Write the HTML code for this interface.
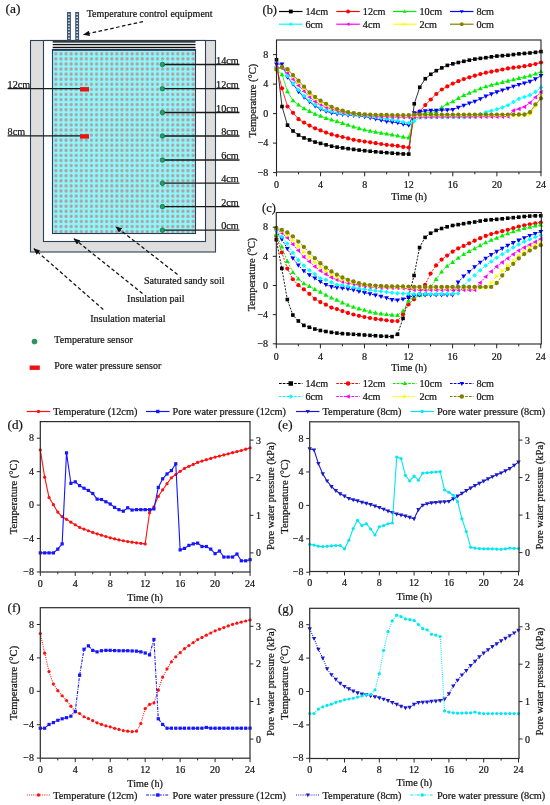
<!DOCTYPE html>
<html><head><meta charset="utf-8"><style>
html,body{margin:0;padding:0;background:#fff;}
svg{display:block;filter:blur(0.3px);}
text{font-family:"Liberation Serif", serif;fill:#151515;stroke:#151515;stroke-width:0.22px;}
</style></head><body>
<svg width="550" height="805" viewBox="0 0 550 805">

<defs><pattern id="soil" patternUnits="userSpaceOnUse" x="53.36" y="51.26" width="5.08" height="5.08"><rect width="5.08" height="5.08" fill="#8cf8f8"/><circle cx="2.54" cy="2.54" r="1.6" fill="#b49ca6"/></pattern><marker id="ah" viewBox="0 0 10 10" refX="9" refY="5" markerWidth="6.5" markerHeight="5.5" orient="auto-start-reverse" markerUnits="userSpaceOnUse" preserveAspectRatio="none"><path d="M0 0L10 5L0 10Z" fill="#111"/></marker></defs>
<text x="5.5" y="13" font-size="13.4" text-anchor="start" >(a)</text>
<rect x="30.5" y="40.5" width="185" height="211.5" fill="#dedede" stroke="#2e4058" stroke-width="1.1"/>
<rect x="43.5" y="40.5" width="162" height="201" fill="#ffffff" stroke="#2e4058" stroke-width="1.1"/>
<rect x="52.5" y="49.5" width="143" height="184" fill="url(#soil)" stroke="#2e3a5a" stroke-width="1.1"/>
<rect x="52.7" y="40" width="142.8" height="2.7" fill="#2d3b45"/>
<rect x="52.7" y="43.9" width="142.8" height="1.1" fill="#111"/>
<rect x="52.7" y="45" width="142.8" height="2" fill="#c4c4c4"/>
<rect x="52.7" y="47" width="142.8" height="1" fill="#111"/>
<rect x="52.7" y="48.8" width="142.8" height="2" fill="#2c3550"/>
<rect x="67.0" y="12" width="3.9" height="28.5" fill="#3b5572"/>
<rect x="68.2" y="13.6" width="1.5" height="1.4" fill="#e8eef4"/>
<rect x="68.2" y="16.6" width="1.5" height="1.4" fill="#e8eef4"/>
<rect x="68.2" y="19.6" width="1.5" height="1.4" fill="#e8eef4"/>
<rect x="68.2" y="22.6" width="1.5" height="1.4" fill="#e8eef4"/>
<rect x="68.2" y="25.6" width="1.5" height="1.4" fill="#e8eef4"/>
<rect x="68.2" y="28.6" width="1.5" height="1.4" fill="#e8eef4"/>
<rect x="68.2" y="31.6" width="1.5" height="1.4" fill="#e8eef4"/>
<rect x="68.2" y="34.6" width="1.5" height="1.4" fill="#e8eef4"/>
<rect x="68.2" y="37.6" width="1.5" height="1.4" fill="#e8eef4"/>
<rect x="75.2" y="12" width="3.9" height="28.5" fill="#3b5572"/>
<rect x="76.4" y="13.6" width="1.5" height="1.4" fill="#e8eef4"/>
<rect x="76.4" y="16.6" width="1.5" height="1.4" fill="#e8eef4"/>
<rect x="76.4" y="19.6" width="1.5" height="1.4" fill="#e8eef4"/>
<rect x="76.4" y="22.6" width="1.5" height="1.4" fill="#e8eef4"/>
<rect x="76.4" y="25.6" width="1.5" height="1.4" fill="#e8eef4"/>
<rect x="76.4" y="28.6" width="1.5" height="1.4" fill="#e8eef4"/>
<rect x="76.4" y="31.6" width="1.5" height="1.4" fill="#e8eef4"/>
<rect x="76.4" y="34.6" width="1.5" height="1.4" fill="#e8eef4"/>
<rect x="76.4" y="37.6" width="1.5" height="1.4" fill="#e8eef4"/>
<line x1="162.4" y1="64.5" x2="239.5" y2="64.5" stroke="#1a1a1a" stroke-width="1.3"/>
<circle cx="162.4" cy="64.5" r="2.3" fill="#1f9e5c" stroke="#155a3a" stroke-width="0.6"/>
<text x="238.7" y="63.6" font-size="10.2" text-anchor="end" >14cm</text>
<line x1="162.4" y1="88.7" x2="239.5" y2="88.7" stroke="#1a1a1a" stroke-width="1.3"/>
<circle cx="162.4" cy="88.7" r="2.3" fill="#1f9e5c" stroke="#155a3a" stroke-width="0.6"/>
<text x="238.7" y="87.8" font-size="10.2" text-anchor="end" >12cm</text>
<line x1="162.4" y1="112.5" x2="239.5" y2="112.5" stroke="#1a1a1a" stroke-width="1.3"/>
<circle cx="162.4" cy="112.5" r="2.3" fill="#1f9e5c" stroke="#155a3a" stroke-width="0.6"/>
<text x="238.7" y="111.6" font-size="10.2" text-anchor="end" >10cm</text>
<line x1="162.4" y1="136" x2="239.5" y2="136" stroke="#1a1a1a" stroke-width="1.3"/>
<circle cx="162.4" cy="136" r="2.3" fill="#1f9e5c" stroke="#155a3a" stroke-width="0.6"/>
<text x="238.7" y="135.1" font-size="10.2" text-anchor="end" >8cm</text>
<line x1="162.4" y1="160" x2="239.5" y2="160" stroke="#1a1a1a" stroke-width="1.3"/>
<circle cx="162.4" cy="160" r="2.3" fill="#1f9e5c" stroke="#155a3a" stroke-width="0.6"/>
<text x="238.7" y="159.1" font-size="10.2" text-anchor="end" >6cm</text>
<line x1="162.4" y1="183.2" x2="239.5" y2="183.2" stroke="#1a1a1a" stroke-width="1.3"/>
<circle cx="162.4" cy="183.2" r="2.3" fill="#1f9e5c" stroke="#155a3a" stroke-width="0.6"/>
<text x="238.7" y="182.3" font-size="10.2" text-anchor="end" >4cm</text>
<line x1="162.4" y1="206.6" x2="239.5" y2="206.6" stroke="#1a1a1a" stroke-width="1.3"/>
<circle cx="162.4" cy="206.6" r="2.3" fill="#1f9e5c" stroke="#155a3a" stroke-width="0.6"/>
<text x="238.7" y="205.7" font-size="10.2" text-anchor="end" >2cm</text>
<line x1="162.4" y1="230.2" x2="239.5" y2="230.2" stroke="#1a1a1a" stroke-width="1.3"/>
<circle cx="162.4" cy="230.2" r="2.3" fill="#1f9e5c" stroke="#155a3a" stroke-width="0.6"/>
<text x="238.7" y="229.3" font-size="10.2" text-anchor="end" >0cm</text>
<line x1="7.6" y1="88.7" x2="81" y2="88.7" stroke="#1a1a1a" stroke-width="1.3"/>
<rect x="80" y="87.1" width="9" height="4.4" fill="#ee1111"/>
<text x="7.6" y="87.8" font-size="10.2" text-anchor="start" >12cm</text>
<line x1="7.6" y1="135.8" x2="81" y2="135.8" stroke="#1a1a1a" stroke-width="1.3"/>
<rect x="80" y="134.2" width="9" height="4.4" fill="#ee1111"/>
<text x="7.6" y="134.9" font-size="10.2" text-anchor="start" >8cm</text>
<line x1="143" y1="21.6" x2="83.7" y2="34.6" stroke="#111" stroke-width="1.25" stroke-dasharray="3.6 2.4" marker-end="url(#ah)"/>
<line x1="177.5" y1="274.5" x2="116" y2="226.8" stroke="#111" stroke-width="1.25" stroke-dasharray="3.6 2.4" marker-end="url(#ah)"/>
<line x1="142.5" y1="293.5" x2="74" y2="238.8" stroke="#111" stroke-width="1.25" stroke-dasharray="3.6 2.4" marker-end="url(#ah)"/>
<line x1="103.3" y1="309.5" x2="34" y2="248.8" stroke="#111" stroke-width="1.25" stroke-dasharray="3.6 2.4" marker-end="url(#ah)"/>
<text x="86.7" y="17.3" font-size="10" text-anchor="start" >Temperature control equipment</text>
<text x="144" y="283.9" font-size="10" text-anchor="start" >Saturated sandy soil</text>
<text x="127.1" y="302.2" font-size="10" text-anchor="start" >Insulation pail</text>
<text x="90.2" y="321.7" font-size="10" text-anchor="start" >Insulation material</text>
<circle cx="34.5" cy="341.6" r="2.5" fill="#1f9e5c" stroke="#155a3a" stroke-width="0.5"/>
<text x="54.3" y="343.2" font-size="10" text-anchor="start" >Temperature sensor</text>
<rect x="29.6" y="365.5" width="10.2" height="4.4" fill="#ee1111"/>
<text x="54.3" y="368.8" font-size="10" text-anchor="start" >Pore water pressure sensor</text>
<polyline points="276.5,59.76 282.01,106.52 287.52,125.18 293.03,131 298.54,135.06 304.05,137.94 309.56,139.93 315.07,142.07 320.58,143.39 326.09,144.87 331.6,146.2 337.11,147.12 342.62,147.89 348.13,148.66 353.64,149.39 359.15,150.08 364.66,150.7 370.17,151.26 375.68,151.78 381.19,152.25 386.7,152.69 392.21,153.14 397.72,153.59 403.23,153.95 408.74,154.09 414.25,103.79 419.76,87.27 425.27,78.72 430.78,74.29 436.29,70.68 441.8,67.88 447.31,65.37 452.82,63.82 458.33,62.51 463.84,61.31 469.35,60.13 474.86,59.1 480.37,58.37 485.88,57.7 491.39,56.83 496.9,56.07 502.41,55.66 507.92,55.26 513.43,54.57 518.94,53.86 524.45,53.42 529.96,52.98 535.47,52.35 540.98,51.58" fill="none" stroke="#000000" stroke-width="0.8"/>
<rect x="274.7" y="57.96" width="3.6" height="3.6" fill="#000000"/>
<rect x="280.21" y="104.72" width="3.6" height="3.6" fill="#000000"/>
<rect x="285.72" y="123.38" width="3.6" height="3.6" fill="#000000"/>
<rect x="291.23" y="129.2" width="3.6" height="3.6" fill="#000000"/>
<rect x="296.74" y="133.26" width="3.6" height="3.6" fill="#000000"/>
<rect x="302.25" y="136.14" width="3.6" height="3.6" fill="#000000"/>
<rect x="307.76" y="138.13" width="3.6" height="3.6" fill="#000000"/>
<rect x="313.27" y="140.27" width="3.6" height="3.6" fill="#000000"/>
<rect x="318.78" y="141.59" width="3.6" height="3.6" fill="#000000"/>
<rect x="324.29" y="143.07" width="3.6" height="3.6" fill="#000000"/>
<rect x="329.8" y="144.4" width="3.6" height="3.6" fill="#000000"/>
<rect x="335.31" y="145.32" width="3.6" height="3.6" fill="#000000"/>
<rect x="340.82" y="146.09" width="3.6" height="3.6" fill="#000000"/>
<rect x="346.33" y="146.86" width="3.6" height="3.6" fill="#000000"/>
<rect x="351.84" y="147.59" width="3.6" height="3.6" fill="#000000"/>
<rect x="357.35" y="148.28" width="3.6" height="3.6" fill="#000000"/>
<rect x="362.86" y="148.9" width="3.6" height="3.6" fill="#000000"/>
<rect x="368.37" y="149.46" width="3.6" height="3.6" fill="#000000"/>
<rect x="373.88" y="149.98" width="3.6" height="3.6" fill="#000000"/>
<rect x="379.39" y="150.45" width="3.6" height="3.6" fill="#000000"/>
<rect x="384.9" y="150.89" width="3.6" height="3.6" fill="#000000"/>
<rect x="390.41" y="151.34" width="3.6" height="3.6" fill="#000000"/>
<rect x="395.92" y="151.79" width="3.6" height="3.6" fill="#000000"/>
<rect x="401.43" y="152.15" width="3.6" height="3.6" fill="#000000"/>
<rect x="406.94" y="152.29" width="3.6" height="3.6" fill="#000000"/>
<rect x="412.45" y="101.99" width="3.6" height="3.6" fill="#000000"/>
<rect x="417.96" y="85.47" width="3.6" height="3.6" fill="#000000"/>
<rect x="423.47" y="76.92" width="3.6" height="3.6" fill="#000000"/>
<rect x="428.98" y="72.49" width="3.6" height="3.6" fill="#000000"/>
<rect x="434.49" y="68.88" width="3.6" height="3.6" fill="#000000"/>
<rect x="440" y="66.08" width="3.6" height="3.6" fill="#000000"/>
<rect x="445.51" y="63.57" width="3.6" height="3.6" fill="#000000"/>
<rect x="451.02" y="62.02" width="3.6" height="3.6" fill="#000000"/>
<rect x="456.53" y="60.71" width="3.6" height="3.6" fill="#000000"/>
<rect x="462.04" y="59.51" width="3.6" height="3.6" fill="#000000"/>
<rect x="467.55" y="58.33" width="3.6" height="3.6" fill="#000000"/>
<rect x="473.06" y="57.3" width="3.6" height="3.6" fill="#000000"/>
<rect x="478.57" y="56.57" width="3.6" height="3.6" fill="#000000"/>
<rect x="484.08" y="55.9" width="3.6" height="3.6" fill="#000000"/>
<rect x="489.59" y="55.03" width="3.6" height="3.6" fill="#000000"/>
<rect x="495.1" y="54.27" width="3.6" height="3.6" fill="#000000"/>
<rect x="500.61" y="53.86" width="3.6" height="3.6" fill="#000000"/>
<rect x="506.12" y="53.46" width="3.6" height="3.6" fill="#000000"/>
<rect x="511.63" y="52.77" width="3.6" height="3.6" fill="#000000"/>
<rect x="517.14" y="52.06" width="3.6" height="3.6" fill="#000000"/>
<rect x="522.65" y="51.62" width="3.6" height="3.6" fill="#000000"/>
<rect x="528.16" y="51.18" width="3.6" height="3.6" fill="#000000"/>
<rect x="533.67" y="50.55" width="3.6" height="3.6" fill="#000000"/>
<rect x="539.18" y="49.78" width="3.6" height="3.6" fill="#000000"/>
<polyline points="276.5,67.28 282.01,88.3 287.52,106.52 293.03,112.79 298.54,119.2 304.05,122.6 309.56,125.55 315.07,128.35 320.58,130.41 326.09,132.55 331.6,134.47 337.11,135.78 342.62,136.98 348.13,138.44 353.64,139.78 359.15,140.73 364.66,141.55 370.17,142.37 375.68,143.17 381.19,144.02 386.7,144.8 392.21,145.35 397.72,145.9 403.23,146.88 408.74,147.52 414.25,115.81 419.76,111.39 425.27,105.12 430.78,99.51 436.29,93.98 441.8,89.48 447.31,86.39 452.82,83.58 458.33,81.19 463.84,79.08 469.35,77.3 474.86,75.69 480.37,74.08 485.88,72.67 491.39,71.64 496.9,70.68 502.41,69.49 507.92,68.39 513.43,67.67 518.94,66.99 524.45,66.18 529.96,65.22 535.47,63.99 540.98,62.49" fill="none" stroke="#ff0000" stroke-width="0.8"/>
<circle cx="276.5" cy="67.28" r="2.1" fill="#ff0000"/>
<circle cx="282.01" cy="88.3" r="2.1" fill="#ff0000"/>
<circle cx="287.52" cy="106.52" r="2.1" fill="#ff0000"/>
<circle cx="293.03" cy="112.79" r="2.1" fill="#ff0000"/>
<circle cx="298.54" cy="119.2" r="2.1" fill="#ff0000"/>
<circle cx="304.05" cy="122.6" r="2.1" fill="#ff0000"/>
<circle cx="309.56" cy="125.55" r="2.1" fill="#ff0000"/>
<circle cx="315.07" cy="128.35" r="2.1" fill="#ff0000"/>
<circle cx="320.58" cy="130.41" r="2.1" fill="#ff0000"/>
<circle cx="326.09" cy="132.55" r="2.1" fill="#ff0000"/>
<circle cx="331.6" cy="134.47" r="2.1" fill="#ff0000"/>
<circle cx="337.11" cy="135.78" r="2.1" fill="#ff0000"/>
<circle cx="342.62" cy="136.98" r="2.1" fill="#ff0000"/>
<circle cx="348.13" cy="138.44" r="2.1" fill="#ff0000"/>
<circle cx="353.64" cy="139.78" r="2.1" fill="#ff0000"/>
<circle cx="359.15" cy="140.73" r="2.1" fill="#ff0000"/>
<circle cx="364.66" cy="141.55" r="2.1" fill="#ff0000"/>
<circle cx="370.17" cy="142.37" r="2.1" fill="#ff0000"/>
<circle cx="375.68" cy="143.17" r="2.1" fill="#ff0000"/>
<circle cx="381.19" cy="144.02" r="2.1" fill="#ff0000"/>
<circle cx="386.7" cy="144.8" r="2.1" fill="#ff0000"/>
<circle cx="392.21" cy="145.35" r="2.1" fill="#ff0000"/>
<circle cx="397.72" cy="145.9" r="2.1" fill="#ff0000"/>
<circle cx="403.23" cy="146.88" r="2.1" fill="#ff0000"/>
<circle cx="408.74" cy="147.52" r="2.1" fill="#ff0000"/>
<circle cx="414.25" cy="115.81" r="2.1" fill="#ff0000"/>
<circle cx="419.76" cy="111.39" r="2.1" fill="#ff0000"/>
<circle cx="425.27" cy="105.12" r="2.1" fill="#ff0000"/>
<circle cx="430.78" cy="99.51" r="2.1" fill="#ff0000"/>
<circle cx="436.29" cy="93.98" r="2.1" fill="#ff0000"/>
<circle cx="441.8" cy="89.48" r="2.1" fill="#ff0000"/>
<circle cx="447.31" cy="86.39" r="2.1" fill="#ff0000"/>
<circle cx="452.82" cy="83.58" r="2.1" fill="#ff0000"/>
<circle cx="458.33" cy="81.19" r="2.1" fill="#ff0000"/>
<circle cx="463.84" cy="79.08" r="2.1" fill="#ff0000"/>
<circle cx="469.35" cy="77.3" r="2.1" fill="#ff0000"/>
<circle cx="474.86" cy="75.69" r="2.1" fill="#ff0000"/>
<circle cx="480.37" cy="74.08" r="2.1" fill="#ff0000"/>
<circle cx="485.88" cy="72.67" r="2.1" fill="#ff0000"/>
<circle cx="491.39" cy="71.64" r="2.1" fill="#ff0000"/>
<circle cx="496.9" cy="70.68" r="2.1" fill="#ff0000"/>
<circle cx="502.41" cy="69.49" r="2.1" fill="#ff0000"/>
<circle cx="507.92" cy="68.39" r="2.1" fill="#ff0000"/>
<circle cx="513.43" cy="67.67" r="2.1" fill="#ff0000"/>
<circle cx="518.94" cy="66.99" r="2.1" fill="#ff0000"/>
<circle cx="524.45" cy="66.18" r="2.1" fill="#ff0000"/>
<circle cx="529.96" cy="65.22" r="2.1" fill="#ff0000"/>
<circle cx="535.47" cy="63.99" r="2.1" fill="#ff0000"/>
<circle cx="540.98" cy="62.49" r="2.1" fill="#ff0000"/>
<polyline points="276.5,69.35 282.01,74.59 287.52,91.62 293.03,100.55 298.54,104.82 304.05,108.58 309.56,111.17 315.07,114.12 320.58,116.03 326.09,118.32 331.6,119.79 337.11,121.45 342.62,123.19 348.13,125.02 353.64,126.8 359.15,128.41 364.66,129.82 370.17,131 375.68,132.04 381.19,132.98 386.7,133.88 392.21,134.79 397.72,135.72 403.23,136.96 408.74,137.72 414.25,116.55 419.76,113.6 425.27,113 430.78,112.49 436.29,111.17 441.8,107.41 447.31,103.79 452.82,101.58 458.33,98.19 463.84,95.31 469.35,93.1 474.86,90.74 480.37,88.55 485.88,86.61 491.39,85.01 496.9,83.58 502.41,82.24 507.92,80.93 513.43,79.55 518.94,78.2 524.45,77.01 529.96,75.69 535.47,73.88 540.98,71.64" fill="none" stroke="#00ee00" stroke-width="0.8"/>
<path d="M276.5 66.76L278.9 71.08L274.1 71.08Z" fill="#00ee00"/>
<path d="M282.01 71.99L284.41 76.31L279.61 76.31Z" fill="#00ee00"/>
<path d="M287.52 89.03L289.92 93.35L285.12 93.35Z" fill="#00ee00"/>
<path d="M293.03 97.95L295.43 102.27L290.63 102.27Z" fill="#00ee00"/>
<path d="M298.54 102.23L300.94 106.55L296.14 106.55Z" fill="#00ee00"/>
<path d="M304.05 105.99L306.45 110.31L301.65 110.31Z" fill="#00ee00"/>
<path d="M309.56 108.57L311.96 112.89L307.16 112.89Z" fill="#00ee00"/>
<path d="M315.07 111.52L317.47 115.84L312.67 115.84Z" fill="#00ee00"/>
<path d="M320.58 113.44L322.98 117.76L318.18 117.76Z" fill="#00ee00"/>
<path d="M326.09 115.73L328.49 120.05L323.69 120.05Z" fill="#00ee00"/>
<path d="M331.6 117.2L334 121.52L329.2 121.52Z" fill="#00ee00"/>
<path d="M337.11 118.85L339.51 123.17L334.71 123.17Z" fill="#00ee00"/>
<path d="M342.62 120.6L345.02 124.92L340.22 124.92Z" fill="#00ee00"/>
<path d="M348.13 122.43L350.53 126.75L345.73 126.75Z" fill="#00ee00"/>
<path d="M353.64 124.21L356.04 128.53L351.24 128.53Z" fill="#00ee00"/>
<path d="M359.15 125.81L361.55 130.13L356.75 130.13Z" fill="#00ee00"/>
<path d="M364.66 127.23L367.06 131.55L362.26 131.55Z" fill="#00ee00"/>
<path d="M370.17 128.41L372.57 132.73L367.77 132.73Z" fill="#00ee00"/>
<path d="M375.68 129.45L378.08 133.77L373.28 133.77Z" fill="#00ee00"/>
<path d="M381.19 130.39L383.59 134.71L378.79 134.71Z" fill="#00ee00"/>
<path d="M386.7 131.29L389.1 135.61L384.3 135.61Z" fill="#00ee00"/>
<path d="M392.21 132.2L394.61 136.52L389.81 136.52Z" fill="#00ee00"/>
<path d="M397.72 133.13L400.12 137.45L395.32 137.45Z" fill="#00ee00"/>
<path d="M403.23 134.37L405.63 138.69L400.83 138.69Z" fill="#00ee00"/>
<path d="M408.74 135.12L411.14 139.44L406.34 139.44Z" fill="#00ee00"/>
<path d="M414.25 113.96L416.65 118.28L411.85 118.28Z" fill="#00ee00"/>
<path d="M419.76 111.01L422.16 115.33L417.36 115.33Z" fill="#00ee00"/>
<path d="M425.27 110.41L427.67 114.73L422.87 114.73Z" fill="#00ee00"/>
<path d="M430.78 109.9L433.18 114.22L428.38 114.22Z" fill="#00ee00"/>
<path d="M436.29 108.57L438.69 112.89L433.89 112.89Z" fill="#00ee00"/>
<path d="M441.8 104.81L444.2 109.13L439.4 109.13Z" fill="#00ee00"/>
<path d="M447.31 101.2L449.71 105.52L444.91 105.52Z" fill="#00ee00"/>
<path d="M452.82 98.99L455.22 103.31L450.42 103.31Z" fill="#00ee00"/>
<path d="M458.33 95.59L460.73 99.91L455.93 99.91Z" fill="#00ee00"/>
<path d="M463.84 92.72L466.24 97.04L461.44 97.04Z" fill="#00ee00"/>
<path d="M469.35 90.51L471.75 94.83L466.95 94.83Z" fill="#00ee00"/>
<path d="M474.86 88.15L477.26 92.47L472.46 92.47Z" fill="#00ee00"/>
<path d="M480.37 85.96L482.77 90.28L477.97 90.28Z" fill="#00ee00"/>
<path d="M485.88 84.02L488.28 88.34L483.48 88.34Z" fill="#00ee00"/>
<path d="M491.39 82.42L493.79 86.74L488.99 86.74Z" fill="#00ee00"/>
<path d="M496.9 80.99L499.3 85.31L494.5 85.31Z" fill="#00ee00"/>
<path d="M502.41 79.65L504.81 83.97L500.01 83.97Z" fill="#00ee00"/>
<path d="M507.92 78.34L510.32 82.66L505.52 82.66Z" fill="#00ee00"/>
<path d="M513.43 76.96L515.83 81.28L511.03 81.28Z" fill="#00ee00"/>
<path d="M518.94 75.61L521.34 79.93L516.54 79.93Z" fill="#00ee00"/>
<path d="M524.45 74.41L526.85 78.73L522.05 78.73Z" fill="#00ee00"/>
<path d="M529.96 73.1L532.36 77.42L527.56 77.42Z" fill="#00ee00"/>
<path d="M535.47 71.29L537.87 75.61L533.07 75.61Z" fill="#00ee00"/>
<path d="M540.98 69.04L543.38 73.36L538.58 73.36Z" fill="#00ee00"/>
<polyline points="276.5,64.11 282.01,64.11 287.52,77.17 293.03,84.17 298.54,91.62 304.05,97.19 309.56,101.8 315.07,105.94 320.58,109.17 326.09,111.35 331.6,112.86 337.11,113.79 342.62,114.48 348.13,115.05 353.64,115.5 359.15,115.99 364.66,116.62 370.17,117.66 375.68,118.91 381.19,120.25 386.7,121.42 392.21,122.08 397.72,122.74 403.23,124.18 408.74,125.18 414.25,112.86 419.76,111.83 425.27,110.87 430.78,110.57 436.29,110.4 441.8,110.21 447.31,110.02 452.82,109.69 458.33,107.41 463.84,105.49 469.35,103.27 474.86,101.43 480.37,98.86 485.88,96.19 491.39,94.04 496.9,92.06 502.41,90.2 507.92,88.38 513.43,86.49 518.94,84.69 524.45,83.23 529.96,81.59 535.47,79.05 540.98,75.69" fill="none" stroke="#0000ff" stroke-width="0.8"/>
<path d="M276.5 66.71L278.9 62.39L274.1 62.39Z" fill="#0000ff"/>
<path d="M282.01 66.71L284.41 62.39L279.61 62.39Z" fill="#0000ff"/>
<path d="M287.52 79.76L289.92 75.44L285.12 75.44Z" fill="#0000ff"/>
<path d="M293.03 86.77L295.43 82.45L290.63 82.45Z" fill="#0000ff"/>
<path d="M298.54 94.21L300.94 89.89L296.14 89.89Z" fill="#0000ff"/>
<path d="M304.05 99.78L306.45 95.46L301.65 95.46Z" fill="#0000ff"/>
<path d="M309.56 104.39L311.96 100.07L307.16 100.07Z" fill="#0000ff"/>
<path d="M315.07 108.53L317.47 104.21L312.67 104.21Z" fill="#0000ff"/>
<path d="M320.58 111.77L322.98 107.45L318.18 107.45Z" fill="#0000ff"/>
<path d="M326.09 113.94L328.49 109.62L323.69 109.62Z" fill="#0000ff"/>
<path d="M331.6 115.45L334 111.13L329.2 111.13Z" fill="#0000ff"/>
<path d="M337.11 116.38L339.51 112.06L334.71 112.06Z" fill="#0000ff"/>
<path d="M342.62 117.08L345.02 112.76L340.22 112.76Z" fill="#0000ff"/>
<path d="M348.13 117.64L350.53 113.32L345.73 113.32Z" fill="#0000ff"/>
<path d="M353.64 118.1L356.04 113.78L351.24 113.78Z" fill="#0000ff"/>
<path d="M359.15 118.58L361.55 114.26L356.75 114.26Z" fill="#0000ff"/>
<path d="M364.66 119.22L367.06 114.9L362.26 114.9Z" fill="#0000ff"/>
<path d="M370.17 120.25L372.57 115.93L367.77 115.93Z" fill="#0000ff"/>
<path d="M375.68 121.5L378.08 117.18L373.28 117.18Z" fill="#0000ff"/>
<path d="M381.19 122.84L383.59 118.52L378.79 118.52Z" fill="#0000ff"/>
<path d="M386.7 124.01L389.1 119.69L384.3 119.69Z" fill="#0000ff"/>
<path d="M392.21 124.68L394.61 120.36L389.81 120.36Z" fill="#0000ff"/>
<path d="M397.72 125.34L400.12 121.02L395.32 121.02Z" fill="#0000ff"/>
<path d="M403.23 126.77L405.63 122.45L400.83 122.45Z" fill="#0000ff"/>
<path d="M408.74 127.77L411.14 123.45L406.34 123.45Z" fill="#0000ff"/>
<path d="M414.25 115.45L416.65 111.13L411.85 111.13Z" fill="#0000ff"/>
<path d="M419.76 114.42L422.16 110.1L417.36 110.1Z" fill="#0000ff"/>
<path d="M425.27 113.46L427.67 109.14L422.87 109.14Z" fill="#0000ff"/>
<path d="M430.78 113.17L433.18 108.85L428.38 108.85Z" fill="#0000ff"/>
<path d="M436.29 112.99L438.69 108.67L433.89 108.67Z" fill="#0000ff"/>
<path d="M441.8 112.8L444.2 108.48L439.4 108.48Z" fill="#0000ff"/>
<path d="M447.31 112.61L449.71 108.29L444.91 108.29Z" fill="#0000ff"/>
<path d="M452.82 112.28L455.22 107.96L450.42 107.96Z" fill="#0000ff"/>
<path d="M458.33 110L460.73 105.68L455.93 105.68Z" fill="#0000ff"/>
<path d="M463.84 108.08L466.24 103.76L461.44 103.76Z" fill="#0000ff"/>
<path d="M469.35 105.87L471.75 101.55L466.95 101.55Z" fill="#0000ff"/>
<path d="M474.86 104.02L477.26 99.7L472.46 99.7Z" fill="#0000ff"/>
<path d="M480.37 101.45L482.77 97.13L477.97 97.13Z" fill="#0000ff"/>
<path d="M485.88 98.79L488.28 94.47L483.48 94.47Z" fill="#0000ff"/>
<path d="M491.39 96.63L493.79 92.31L488.99 92.31Z" fill="#0000ff"/>
<path d="M496.9 94.66L499.3 90.34L494.5 90.34Z" fill="#0000ff"/>
<path d="M502.41 92.79L504.81 88.47L500.01 88.47Z" fill="#0000ff"/>
<path d="M507.92 90.97L510.32 86.65L505.52 86.65Z" fill="#0000ff"/>
<path d="M513.43 89.09L515.83 84.77L511.03 84.77Z" fill="#0000ff"/>
<path d="M518.94 87.28L521.34 82.96L516.54 82.96Z" fill="#0000ff"/>
<path d="M524.45 85.82L526.85 81.5L522.05 81.5Z" fill="#0000ff"/>
<path d="M529.96 84.18L532.36 79.86L527.56 79.86Z" fill="#0000ff"/>
<path d="M535.47 81.64L537.87 77.32L533.07 77.32Z" fill="#0000ff"/>
<path d="M540.98 78.28L543.38 73.96L538.58 73.96Z" fill="#0000ff"/>
<polyline points="276.5,67.14 282.01,67.88 287.52,75.91 293.03,83.51 298.54,89.93 304.05,95.9 309.56,100.69 315.07,104.82 320.58,108.07 326.09,110.28 331.6,111.53 337.11,112.79 342.62,113.53 348.13,114.13 353.64,114.67 359.15,115.21 364.66,115.81 370.17,116.51 375.68,117.27 381.19,118.08 386.7,118.91 392.21,119.75 397.72,120.68 403.23,122.11 408.74,123.04 414.25,121.12 419.76,117.51 425.27,117.38 430.78,117.3 436.29,117.25 441.8,117.22 447.31,117.21 452.82,117.2 458.33,117.18 463.84,117.13 469.35,117.05 474.86,116.92 480.37,114.34 485.88,112.27 491.39,110.79 496.9,109.32 502.41,107.45 507.92,105.19 513.43,101.98 518.94,98.85 524.45,97.05 529.96,95.16 535.47,91.91 540.98,87.49" fill="none" stroke="#00ffff" stroke-width="0.8"/>
<path d="M276.5 64.84L278.8 67.14L276.5 69.44L274.2 67.14Z" fill="#00ffff"/>
<path d="M282.01 65.58L284.31 67.88L282.01 70.17L279.71 67.88Z" fill="#00ffff"/>
<path d="M287.52 73.61L289.82 75.91L287.52 78.21L285.22 75.91Z" fill="#00ffff"/>
<path d="M293.03 81.21L295.33 83.51L293.03 85.81L290.73 83.51Z" fill="#00ffff"/>
<path d="M298.54 87.63L300.84 89.93L298.54 92.23L296.24 89.93Z" fill="#00ffff"/>
<path d="M304.05 93.6L306.35 95.9L304.05 98.2L301.75 95.9Z" fill="#00ffff"/>
<path d="M309.56 98.39L311.86 100.69L309.56 102.99L307.26 100.69Z" fill="#00ffff"/>
<path d="M315.07 102.52L317.37 104.82L315.07 107.12L312.77 104.82Z" fill="#00ffff"/>
<path d="M320.58 105.77L322.88 108.07L320.58 110.37L318.28 108.07Z" fill="#00ffff"/>
<path d="M326.09 107.98L328.39 110.28L326.09 112.58L323.79 110.28Z" fill="#00ffff"/>
<path d="M331.6 109.23L333.9 111.53L331.6 113.83L329.3 111.53Z" fill="#00ffff"/>
<path d="M337.11 110.49L339.41 112.79L337.11 115.09L334.81 112.79Z" fill="#00ffff"/>
<path d="M342.62 111.23L344.92 113.53L342.62 115.83L340.32 113.53Z" fill="#00ffff"/>
<path d="M348.13 111.83L350.43 114.13L348.13 116.43L345.83 114.13Z" fill="#00ffff"/>
<path d="M353.64 112.37L355.94 114.67L353.64 116.97L351.34 114.67Z" fill="#00ffff"/>
<path d="M359.15 112.91L361.45 115.21L359.15 117.51L356.85 115.21Z" fill="#00ffff"/>
<path d="M364.66 113.51L366.96 115.81L364.66 118.11L362.36 115.81Z" fill="#00ffff"/>
<path d="M370.17 114.21L372.47 116.51L370.17 118.81L367.87 116.51Z" fill="#00ffff"/>
<path d="M375.68 114.97L377.98 117.27L375.68 119.57L373.38 117.27Z" fill="#00ffff"/>
<path d="M381.19 115.78L383.49 118.08L381.19 120.38L378.89 118.08Z" fill="#00ffff"/>
<path d="M386.7 116.61L389 118.91L386.7 121.21L384.4 118.91Z" fill="#00ffff"/>
<path d="M392.21 117.45L394.51 119.75L392.21 122.05L389.91 119.75Z" fill="#00ffff"/>
<path d="M397.72 118.38L400.02 120.68L397.72 122.98L395.42 120.68Z" fill="#00ffff"/>
<path d="M403.23 119.81L405.53 122.11L403.23 124.41L400.93 122.11Z" fill="#00ffff"/>
<path d="M408.74 120.74L411.04 123.04L408.74 125.34L406.44 123.04Z" fill="#00ffff"/>
<path d="M414.25 118.82L416.55 121.12L414.25 123.42L411.95 121.12Z" fill="#00ffff"/>
<path d="M419.76 115.21L422.06 117.51L419.76 119.81L417.46 117.51Z" fill="#00ffff"/>
<path d="M425.27 115.08L427.57 117.38L425.27 119.68L422.97 117.38Z" fill="#00ffff"/>
<path d="M430.78 115L433.08 117.3L430.78 119.6L428.48 117.3Z" fill="#00ffff"/>
<path d="M436.29 114.95L438.59 117.25L436.29 119.55L433.99 117.25Z" fill="#00ffff"/>
<path d="M441.8 114.92L444.1 117.22L441.8 119.52L439.5 117.22Z" fill="#00ffff"/>
<path d="M447.31 114.91L449.61 117.21L447.31 119.51L445.01 117.21Z" fill="#00ffff"/>
<path d="M452.82 114.9L455.12 117.2L452.82 119.5L450.52 117.2Z" fill="#00ffff"/>
<path d="M458.33 114.88L460.63 117.18L458.33 119.48L456.03 117.18Z" fill="#00ffff"/>
<path d="M463.84 114.83L466.14 117.13L463.84 119.43L461.54 117.13Z" fill="#00ffff"/>
<path d="M469.35 114.75L471.65 117.05L469.35 119.35L467.05 117.05Z" fill="#00ffff"/>
<path d="M474.86 114.62L477.16 116.92L474.86 119.22L472.56 116.92Z" fill="#00ffff"/>
<path d="M480.37 112.04L482.67 114.34L480.37 116.64L478.07 114.34Z" fill="#00ffff"/>
<path d="M485.88 109.97L488.18 112.27L485.88 114.57L483.58 112.27Z" fill="#00ffff"/>
<path d="M491.39 108.49L493.69 110.79L491.39 113.09L489.09 110.79Z" fill="#00ffff"/>
<path d="M496.9 107.02L499.2 109.32L496.9 111.62L494.6 109.32Z" fill="#00ffff"/>
<path d="M502.41 105.15L504.71 107.45L502.41 109.75L500.11 107.45Z" fill="#00ffff"/>
<path d="M507.92 102.89L510.22 105.19L507.92 107.49L505.62 105.19Z" fill="#00ffff"/>
<path d="M513.43 99.68L515.73 101.98L513.43 104.28L511.13 101.98Z" fill="#00ffff"/>
<path d="M518.94 96.55L521.24 98.85L518.94 101.15L516.64 98.85Z" fill="#00ffff"/>
<path d="M524.45 94.75L526.75 97.05L524.45 99.35L522.15 97.05Z" fill="#00ffff"/>
<path d="M529.96 92.86L532.26 95.16L529.96 97.46L527.66 95.16Z" fill="#00ffff"/>
<path d="M535.47 89.61L537.77 91.91L535.47 94.21L533.17 91.91Z" fill="#00ffff"/>
<path d="M540.98 85.19L543.28 87.49L540.98 89.79L538.68 87.49Z" fill="#00ffff"/>
<polyline points="276.5,67.88 282.01,67.88 287.52,72.74 293.03,79.08 298.54,85.5 304.05,91.18 309.56,96.93 315.07,101.43 320.58,104.53 326.09,107.33 331.6,109.03 337.11,110.87 342.62,112.2 348.13,112.98 353.64,113.57 359.15,114.1 364.66,114.71 370.17,115.53 375.68,116.18 381.19,116.49 386.7,116.76 392.21,116.98 397.72,117.15 403.23,117.25 408.74,117.29 414.25,117.29 419.76,117.2 425.27,117.04 430.78,116.92 436.29,116.87 441.8,116.84 447.31,116.82 452.82,116.8 458.33,116.79 463.84,116.78 469.35,116.77 474.86,116.77 480.37,116.75 485.88,116.73 491.39,116.7 496.9,116.67 502.41,116.62 507.92,116.55 513.43,110.58 518.94,108.88 524.45,106.81 529.96,102.69 535.47,97.3 540.98,92.06" fill="none" stroke="#ff00ff" stroke-width="0.8"/>
<path d="M274.02 67.88L278.16 65.58L278.16 70.17Z" fill="#ff00ff"/>
<path d="M279.53 67.88L283.67 65.58L283.67 70.17Z" fill="#ff00ff"/>
<path d="M285.04 72.74L289.18 70.44L289.18 75.04Z" fill="#ff00ff"/>
<path d="M290.55 79.08L294.69 76.78L294.69 81.38Z" fill="#ff00ff"/>
<path d="M296.06 85.5L300.2 83.2L300.2 87.8Z" fill="#ff00ff"/>
<path d="M301.57 91.18L305.71 88.88L305.71 93.48Z" fill="#ff00ff"/>
<path d="M307.08 96.93L311.22 94.63L311.22 99.23Z" fill="#ff00ff"/>
<path d="M312.59 101.43L316.73 99.13L316.73 103.73Z" fill="#ff00ff"/>
<path d="M318.1 104.53L322.24 102.23L322.24 106.83Z" fill="#ff00ff"/>
<path d="M323.61 107.33L327.75 105.03L327.75 109.63Z" fill="#ff00ff"/>
<path d="M329.12 109.03L333.26 106.73L333.26 111.33Z" fill="#ff00ff"/>
<path d="M334.63 110.87L338.77 108.57L338.77 113.17Z" fill="#ff00ff"/>
<path d="M340.14 112.2L344.28 109.9L344.28 114.5Z" fill="#ff00ff"/>
<path d="M345.65 112.98L349.79 110.68L349.79 115.28Z" fill="#ff00ff"/>
<path d="M351.16 113.57L355.3 111.27L355.3 115.87Z" fill="#ff00ff"/>
<path d="M356.67 114.1L360.81 111.8L360.81 116.4Z" fill="#ff00ff"/>
<path d="M362.18 114.71L366.32 112.41L366.32 117.01Z" fill="#ff00ff"/>
<path d="M367.69 115.53L371.83 113.23L371.83 117.83Z" fill="#ff00ff"/>
<path d="M373.2 116.18L377.34 113.88L377.34 118.48Z" fill="#ff00ff"/>
<path d="M378.71 116.49L382.85 114.19L382.85 118.79Z" fill="#ff00ff"/>
<path d="M384.22 116.76L388.36 114.46L388.36 119.06Z" fill="#ff00ff"/>
<path d="M389.73 116.98L393.87 114.68L393.87 119.28Z" fill="#ff00ff"/>
<path d="M395.24 117.15L399.38 114.85L399.38 119.45Z" fill="#ff00ff"/>
<path d="M400.75 117.25L404.89 114.95L404.89 119.55Z" fill="#ff00ff"/>
<path d="M406.26 117.29L410.4 114.99L410.4 119.59Z" fill="#ff00ff"/>
<path d="M411.77 117.29L415.91 114.99L415.91 119.59Z" fill="#ff00ff"/>
<path d="M417.28 117.2L421.42 114.9L421.42 119.5Z" fill="#ff00ff"/>
<path d="M422.79 117.04L426.93 114.74L426.93 119.34Z" fill="#ff00ff"/>
<path d="M428.3 116.92L432.44 114.62L432.44 119.22Z" fill="#ff00ff"/>
<path d="M433.81 116.87L437.95 114.57L437.95 119.17Z" fill="#ff00ff"/>
<path d="M439.32 116.84L443.46 114.54L443.46 119.14Z" fill="#ff00ff"/>
<path d="M444.83 116.82L448.97 114.52L448.97 119.12Z" fill="#ff00ff"/>
<path d="M450.34 116.8L454.48 114.5L454.48 119.1Z" fill="#ff00ff"/>
<path d="M455.85 116.79L459.99 114.49L459.99 119.09Z" fill="#ff00ff"/>
<path d="M461.36 116.78L465.5 114.48L465.5 119.08Z" fill="#ff00ff"/>
<path d="M466.87 116.77L471.01 114.47L471.01 119.07Z" fill="#ff00ff"/>
<path d="M472.38 116.77L476.52 114.47L476.52 119.07Z" fill="#ff00ff"/>
<path d="M477.89 116.75L482.03 114.45L482.03 119.05Z" fill="#ff00ff"/>
<path d="M483.4 116.73L487.54 114.43L487.54 119.03Z" fill="#ff00ff"/>
<path d="M488.91 116.7L493.05 114.4L493.05 119Z" fill="#ff00ff"/>
<path d="M494.42 116.67L498.56 114.37L498.56 118.97Z" fill="#ff00ff"/>
<path d="M499.93 116.62L504.07 114.32L504.07 118.92Z" fill="#ff00ff"/>
<path d="M505.44 116.55L509.58 114.25L509.58 118.85Z" fill="#ff00ff"/>
<path d="M510.95 110.58L515.09 108.28L515.09 112.88Z" fill="#ff00ff"/>
<path d="M516.46 108.88L520.6 106.58L520.6 111.18Z" fill="#ff00ff"/>
<path d="M521.97 106.81L526.11 104.52L526.11 109.11Z" fill="#ff00ff"/>
<path d="M527.48 102.69L531.62 100.39L531.62 104.98Z" fill="#ff00ff"/>
<path d="M532.99 97.3L537.13 95L537.13 99.6Z" fill="#ff00ff"/>
<path d="M538.5 92.06L542.64 89.77L542.64 94.36Z" fill="#ff00ff"/>
<polyline points="276.5,69.35 282.01,67.14 287.52,70.09 293.03,76.72 298.54,82.62 304.05,88.52 309.56,94.42 315.07,98.85 320.58,102.54 326.09,105.49 331.6,107.85 337.11,109.91 342.62,111.39 348.13,112.63 353.64,113.6 359.15,114.26 364.66,114.71 370.17,114.96 375.68,115.16 381.19,115.31 386.7,115.44 392.21,115.57 397.72,115.69 403.23,115.78 408.74,115.81 414.25,115.81 419.76,115.72 425.27,115.54 430.78,115.44 436.29,115.44 441.8,115.44 447.31,115.44 452.82,115.44 458.33,115.44 463.84,115.44 469.35,115.44 474.86,115.44 480.37,115.44 485.88,115.44 491.39,115.44 496.9,115.44 502.41,115.44 507.92,115.44 513.43,115.44 518.94,115.44 524.45,115.44 529.96,114.34 535.47,106.22 540.98,95.6" fill="none" stroke="#ffff00" stroke-width="0.8"/>
<path d="M278.98 69.35L274.84 67.05L274.84 71.65Z" fill="#ffff00"/>
<path d="M284.49 67.14L280.35 64.84L280.35 69.44Z" fill="#ffff00"/>
<path d="M290 70.09L285.86 67.79L285.86 72.39Z" fill="#ffff00"/>
<path d="M295.51 76.72L291.37 74.42L291.37 79.02Z" fill="#ffff00"/>
<path d="M301.02 82.62L296.88 80.33L296.88 84.92Z" fill="#ffff00"/>
<path d="M306.53 88.52L302.39 86.22L302.39 90.82Z" fill="#ffff00"/>
<path d="M312.04 94.42L307.9 92.12L307.9 96.72Z" fill="#ffff00"/>
<path d="M317.55 98.85L313.41 96.55L313.41 101.15Z" fill="#ffff00"/>
<path d="M323.06 102.54L318.92 100.24L318.92 104.84Z" fill="#ffff00"/>
<path d="M328.57 105.49L324.43 103.19L324.43 107.79Z" fill="#ffff00"/>
<path d="M334.08 107.85L329.94 105.55L329.94 110.15Z" fill="#ffff00"/>
<path d="M339.59 109.91L335.45 107.61L335.45 112.21Z" fill="#ffff00"/>
<path d="M345.1 111.39L340.96 109.09L340.96 113.69Z" fill="#ffff00"/>
<path d="M350.61 112.63L346.47 110.33L346.47 114.93Z" fill="#ffff00"/>
<path d="M356.12 113.6L351.98 111.3L351.98 115.9Z" fill="#ffff00"/>
<path d="M361.63 114.26L357.49 111.96L357.49 116.56Z" fill="#ffff00"/>
<path d="M367.14 114.71L363 112.41L363 117.01Z" fill="#ffff00"/>
<path d="M372.65 114.96L368.51 112.66L368.51 117.26Z" fill="#ffff00"/>
<path d="M378.16 115.16L374.02 112.86L374.02 117.46Z" fill="#ffff00"/>
<path d="M383.67 115.31L379.53 113.01L379.53 117.61Z" fill="#ffff00"/>
<path d="M389.18 115.44L385.04 113.14L385.04 117.74Z" fill="#ffff00"/>
<path d="M394.69 115.57L390.55 113.27L390.55 117.87Z" fill="#ffff00"/>
<path d="M400.2 115.69L396.06 113.39L396.06 117.99Z" fill="#ffff00"/>
<path d="M405.71 115.78L401.57 113.48L401.57 118.08Z" fill="#ffff00"/>
<path d="M411.22 115.81L407.08 113.51L407.08 118.11Z" fill="#ffff00"/>
<path d="M416.73 115.81L412.59 113.51L412.59 118.11Z" fill="#ffff00"/>
<path d="M422.24 115.72L418.1 113.42L418.1 118.02Z" fill="#ffff00"/>
<path d="M427.75 115.54L423.61 113.24L423.61 117.84Z" fill="#ffff00"/>
<path d="M433.26 115.44L429.12 113.14L429.12 117.74Z" fill="#ffff00"/>
<path d="M438.77 115.44L434.63 113.14L434.63 117.74Z" fill="#ffff00"/>
<path d="M444.28 115.44L440.14 113.14L440.14 117.74Z" fill="#ffff00"/>
<path d="M449.79 115.44L445.65 113.14L445.65 117.74Z" fill="#ffff00"/>
<path d="M455.3 115.44L451.16 113.14L451.16 117.74Z" fill="#ffff00"/>
<path d="M460.81 115.44L456.67 113.14L456.67 117.74Z" fill="#ffff00"/>
<path d="M466.32 115.44L462.18 113.14L462.18 117.74Z" fill="#ffff00"/>
<path d="M471.83 115.44L467.69 113.14L467.69 117.74Z" fill="#ffff00"/>
<path d="M477.34 115.44L473.2 113.14L473.2 117.74Z" fill="#ffff00"/>
<path d="M482.85 115.44L478.71 113.14L478.71 117.74Z" fill="#ffff00"/>
<path d="M488.36 115.44L484.22 113.14L484.22 117.74Z" fill="#ffff00"/>
<path d="M493.87 115.44L489.73 113.14L489.73 117.74Z" fill="#ffff00"/>
<path d="M499.38 115.44L495.24 113.14L495.24 117.74Z" fill="#ffff00"/>
<path d="M504.89 115.44L500.75 113.14L500.75 117.74Z" fill="#ffff00"/>
<path d="M510.4 115.44L506.26 113.14L506.26 117.74Z" fill="#ffff00"/>
<path d="M515.91 115.44L511.77 113.14L511.77 117.74Z" fill="#ffff00"/>
<path d="M521.42 115.44L517.28 113.14L517.28 117.74Z" fill="#ffff00"/>
<path d="M526.93 115.44L522.79 113.14L522.79 117.74Z" fill="#ffff00"/>
<path d="M532.44 114.34L528.3 112.04L528.3 116.64Z" fill="#ffff00"/>
<path d="M537.95 106.22L533.81 103.92L533.81 108.52Z" fill="#ffff00"/>
<path d="M543.46 95.6L539.32 93.3L539.32 97.9Z" fill="#ffff00"/>
<polyline points="276.5,69.5 282.01,66.99 287.52,69.2 293.03,75.03 298.54,80.63 304.05,86.68 309.56,92.51 315.07,96.93 320.58,100.69 326.09,103.86 331.6,106.81 337.11,109.03 342.62,110.72 348.13,112.14 353.64,113.23 359.15,114.01 364.66,114.48 370.17,114.68 375.68,114.82 381.19,114.92 386.7,115 392.21,115.08 397.72,115.15 403.23,115.2 408.74,115.22 414.25,114.71 419.76,114.71 425.27,114.71 430.78,114.71 436.29,114.71 441.8,114.71 447.31,114.7 452.82,114.7 458.33,114.7 463.84,114.69 469.35,114.69 474.86,114.68 480.37,114.67 485.88,114.66 491.39,114.64 496.9,114.62 502.41,114.6 507.92,114.58 513.43,114.55 518.94,114.52 524.45,114.48 529.96,112.27 535.47,104.38 540.98,98.41" fill="none" stroke="#808000" stroke-width="0.8"/>
<circle cx="276.5" cy="69.5" r="2.15" fill="#808000"/>
<circle cx="282.01" cy="66.99" r="2.15" fill="#808000"/>
<circle cx="287.52" cy="69.2" r="2.15" fill="#808000"/>
<circle cx="293.03" cy="75.03" r="2.15" fill="#808000"/>
<circle cx="298.54" cy="80.63" r="2.15" fill="#808000"/>
<circle cx="304.05" cy="86.68" r="2.15" fill="#808000"/>
<circle cx="309.56" cy="92.51" r="2.15" fill="#808000"/>
<circle cx="315.07" cy="96.93" r="2.15" fill="#808000"/>
<circle cx="320.58" cy="100.69" r="2.15" fill="#808000"/>
<circle cx="326.09" cy="103.86" r="2.15" fill="#808000"/>
<circle cx="331.6" cy="106.81" r="2.15" fill="#808000"/>
<circle cx="337.11" cy="109.03" r="2.15" fill="#808000"/>
<circle cx="342.62" cy="110.72" r="2.15" fill="#808000"/>
<circle cx="348.13" cy="112.14" r="2.15" fill="#808000"/>
<circle cx="353.64" cy="113.23" r="2.15" fill="#808000"/>
<circle cx="359.15" cy="114.01" r="2.15" fill="#808000"/>
<circle cx="364.66" cy="114.48" r="2.15" fill="#808000"/>
<circle cx="370.17" cy="114.68" r="2.15" fill="#808000"/>
<circle cx="375.68" cy="114.82" r="2.15" fill="#808000"/>
<circle cx="381.19" cy="114.92" r="2.15" fill="#808000"/>
<circle cx="386.7" cy="115" r="2.15" fill="#808000"/>
<circle cx="392.21" cy="115.08" r="2.15" fill="#808000"/>
<circle cx="397.72" cy="115.15" r="2.15" fill="#808000"/>
<circle cx="403.23" cy="115.2" r="2.15" fill="#808000"/>
<circle cx="408.74" cy="115.22" r="2.15" fill="#808000"/>
<circle cx="414.25" cy="114.71" r="2.15" fill="#808000"/>
<circle cx="419.76" cy="114.71" r="2.15" fill="#808000"/>
<circle cx="425.27" cy="114.71" r="2.15" fill="#808000"/>
<circle cx="430.78" cy="114.71" r="2.15" fill="#808000"/>
<circle cx="436.29" cy="114.71" r="2.15" fill="#808000"/>
<circle cx="441.8" cy="114.71" r="2.15" fill="#808000"/>
<circle cx="447.31" cy="114.7" r="2.15" fill="#808000"/>
<circle cx="452.82" cy="114.7" r="2.15" fill="#808000"/>
<circle cx="458.33" cy="114.7" r="2.15" fill="#808000"/>
<circle cx="463.84" cy="114.69" r="2.15" fill="#808000"/>
<circle cx="469.35" cy="114.69" r="2.15" fill="#808000"/>
<circle cx="474.86" cy="114.68" r="2.15" fill="#808000"/>
<circle cx="480.37" cy="114.67" r="2.15" fill="#808000"/>
<circle cx="485.88" cy="114.66" r="2.15" fill="#808000"/>
<circle cx="491.39" cy="114.64" r="2.15" fill="#808000"/>
<circle cx="496.9" cy="114.62" r="2.15" fill="#808000"/>
<circle cx="502.41" cy="114.6" r="2.15" fill="#808000"/>
<circle cx="507.92" cy="114.58" r="2.15" fill="#808000"/>
<circle cx="513.43" cy="114.55" r="2.15" fill="#808000"/>
<circle cx="518.94" cy="114.52" r="2.15" fill="#808000"/>
<circle cx="524.45" cy="114.48" r="2.15" fill="#808000"/>
<circle cx="529.96" cy="112.27" r="2.15" fill="#808000"/>
<circle cx="535.47" cy="104.38" r="2.15" fill="#808000"/>
<circle cx="540.98" cy="98.41" r="2.15" fill="#808000"/>
<rect x="276.5" y="40" width="264.5" height="132" fill="none" stroke="#222" stroke-width="1.1"/>
<line x1="276.5" y1="172" x2="276.5" y2="176.3" stroke="#222" stroke-width="1"/>
<text x="276.5" y="188" font-size="10" text-anchor="middle" >0</text>
<line x1="298.54" y1="172" x2="298.54" y2="174.3" stroke="#222" stroke-width="1"/>
<line x1="320.58" y1="172" x2="320.58" y2="176.3" stroke="#222" stroke-width="1"/>
<text x="320.58" y="188" font-size="10" text-anchor="middle" >4</text>
<line x1="342.62" y1="172" x2="342.62" y2="174.3" stroke="#222" stroke-width="1"/>
<line x1="364.66" y1="172" x2="364.66" y2="176.3" stroke="#222" stroke-width="1"/>
<text x="364.66" y="188" font-size="10" text-anchor="middle" >8</text>
<line x1="386.7" y1="172" x2="386.7" y2="174.3" stroke="#222" stroke-width="1"/>
<line x1="408.74" y1="172" x2="408.74" y2="176.3" stroke="#222" stroke-width="1"/>
<text x="408.74" y="188" font-size="10" text-anchor="middle" >12</text>
<line x1="430.78" y1="172" x2="430.78" y2="174.3" stroke="#222" stroke-width="1"/>
<line x1="452.82" y1="172" x2="452.82" y2="176.3" stroke="#222" stroke-width="1"/>
<text x="452.82" y="188" font-size="10" text-anchor="middle" >16</text>
<line x1="474.86" y1="172" x2="474.86" y2="174.3" stroke="#222" stroke-width="1"/>
<line x1="496.9" y1="172" x2="496.9" y2="176.3" stroke="#222" stroke-width="1"/>
<text x="496.9" y="188" font-size="10" text-anchor="middle" >20</text>
<line x1="518.94" y1="172" x2="518.94" y2="174.3" stroke="#222" stroke-width="1"/>
<line x1="540.98" y1="172" x2="540.98" y2="176.3" stroke="#222" stroke-width="1"/>
<text x="540.98" y="188" font-size="10" text-anchor="middle" >24</text>
<line x1="273" y1="54.6" x2="276.5" y2="54.6" stroke="#222" stroke-width="1"/>
<text x="268.3" y="57.9" font-size="10" text-anchor="end" >8</text>
<line x1="273" y1="84.1" x2="276.5" y2="84.1" stroke="#222" stroke-width="1"/>
<text x="268.3" y="87.4" font-size="10" text-anchor="end" >4</text>
<line x1="273" y1="113.6" x2="276.5" y2="113.6" stroke="#222" stroke-width="1"/>
<text x="268.3" y="116.9" font-size="10" text-anchor="end" >0</text>
<line x1="273" y1="143.1" x2="276.5" y2="143.1" stroke="#222" stroke-width="1"/>
<text x="268.3" y="146.4" font-size="10" text-anchor="end" >−4</text>
<line x1="273" y1="172.6" x2="276.5" y2="172.6" stroke="#222" stroke-width="1"/>
<text x="268.3" y="175.9" font-size="10" text-anchor="end" >−8</text>
<text x="262.5" y="13.6" font-size="12.4" text-anchor="start" >(b)</text>
<line x1="279" y1="11.5" x2="302.5" y2="11.5" stroke="#000000" stroke-width="1.2"/>
<rect x="288.9" y="9.6" width="3.8" height="3.8" fill="#000000"/>
<text x="305.5" y="15" font-size="10.2" text-anchor="start" >14cm</text>
<line x1="336.3" y1="11.5" x2="359.8" y2="11.5" stroke="#ff0000" stroke-width="1.2"/>
<circle cx="348.1" cy="11.5" r="1.9" fill="#ff0000"/>
<text x="362.8" y="15" font-size="10.2" text-anchor="start" >12cm</text>
<line x1="393" y1="11.5" x2="416.5" y2="11.5" stroke="#00ee00" stroke-width="1.2"/>
<path d="M404.8 9.45L406.7 12.87L402.9 12.87Z" fill="#00ee00"/>
<text x="419.5" y="15" font-size="10.2" text-anchor="start" >10cm</text>
<line x1="450" y1="11.5" x2="473.5" y2="11.5" stroke="#0000ff" stroke-width="1.2"/>
<path d="M461.8 13.55L463.7 10.13L459.9 10.13Z" fill="#0000ff"/>
<text x="476.5" y="15" font-size="10.2" text-anchor="start" >8cm</text>
<line x1="279" y1="24.2" x2="302.5" y2="24.2" stroke="#00ffff" stroke-width="1.2"/>
<path d="M290.8 22.3L292.7 24.2L290.8 26.1L288.9 24.2Z" fill="#00ffff"/>
<text x="305.5" y="27.7" font-size="10.2" text-anchor="start" >6cm</text>
<line x1="336.3" y1="24.2" x2="359.8" y2="24.2" stroke="#ff00ff" stroke-width="1.2"/>
<path d="M346.05 24.2L349.47 22.3L349.47 26.1Z" fill="#ff00ff"/>
<text x="362.8" y="27.7" font-size="10.2" text-anchor="start" >4cm</text>
<line x1="393" y1="24.2" x2="416.5" y2="24.2" stroke="#ffff00" stroke-width="1.2"/>
<path d="M406.85 24.2L403.43 22.3L403.43 26.1Z" fill="#ffff00"/>
<text x="419.5" y="27.7" font-size="10.2" text-anchor="start" >2cm</text>
<line x1="450" y1="24.2" x2="473.5" y2="24.2" stroke="#808000" stroke-width="1.2"/>
<circle cx="461.8" cy="24.2" r="1.9" fill="#808000"/>
<text x="476.5" y="27.7" font-size="10.2" text-anchor="start" >0cm</text>
<text x="409" y="200.2" font-size="10.2" text-anchor="middle" >Time (h)</text>
<text transform="translate(255.5,100.6) rotate(-90)" font-size="10.5" text-anchor="middle">Temperature (°C)</text>
<polyline points="276.3,239.72 281.81,268.37 287.32,299.5 292.83,315.02 298.34,321 303.85,325.38 309.36,327.27 314.87,329.04 320.38,330.48 325.89,331.5 331.4,332.37 336.91,333.08 342.42,333.61 347.93,333.97 353.44,334.27 358.95,334.63 364.46,335 369.97,335.37 375.48,335.73 380.99,336.08 386.5,336.38 392.01,336.6 397.52,334.27 403.03,318.38 408.54,297.16 414.05,275.51 419.56,247.52 425.07,237.39 430.58,233.23 436.09,230.39 441.6,228.49 447.11,226.82 452.62,225.5 458.13,224.63 463.64,223.68 469.15,222.73 474.66,222 480.17,221.04 485.68,220.18 491.19,219.72 496.7,219.31 502.21,218.78 507.72,218.21 513.23,217.66 518.74,217.12 524.25,216.54 529.76,216.1 535.27,215.85 540.78,215.73" fill="none" stroke="#000000" stroke-width="0.9" stroke-dasharray="2 1.3"/>
<rect x="274.5" y="237.92" width="3.6" height="3.6" fill="#000000"/>
<rect x="280.01" y="266.57" width="3.6" height="3.6" fill="#000000"/>
<rect x="285.52" y="297.7" width="3.6" height="3.6" fill="#000000"/>
<rect x="291.03" y="313.22" width="3.6" height="3.6" fill="#000000"/>
<rect x="296.54" y="319.2" width="3.6" height="3.6" fill="#000000"/>
<rect x="302.05" y="323.58" width="3.6" height="3.6" fill="#000000"/>
<rect x="307.56" y="325.47" width="3.6" height="3.6" fill="#000000"/>
<rect x="313.07" y="327.24" width="3.6" height="3.6" fill="#000000"/>
<rect x="318.58" y="328.68" width="3.6" height="3.6" fill="#000000"/>
<rect x="324.09" y="329.7" width="3.6" height="3.6" fill="#000000"/>
<rect x="329.6" y="330.57" width="3.6" height="3.6" fill="#000000"/>
<rect x="335.11" y="331.28" width="3.6" height="3.6" fill="#000000"/>
<rect x="340.62" y="331.81" width="3.6" height="3.6" fill="#000000"/>
<rect x="346.13" y="332.17" width="3.6" height="3.6" fill="#000000"/>
<rect x="351.64" y="332.47" width="3.6" height="3.6" fill="#000000"/>
<rect x="357.15" y="332.83" width="3.6" height="3.6" fill="#000000"/>
<rect x="362.66" y="333.2" width="3.6" height="3.6" fill="#000000"/>
<rect x="368.17" y="333.57" width="3.6" height="3.6" fill="#000000"/>
<rect x="373.68" y="333.93" width="3.6" height="3.6" fill="#000000"/>
<rect x="379.19" y="334.28" width="3.6" height="3.6" fill="#000000"/>
<rect x="384.7" y="334.58" width="3.6" height="3.6" fill="#000000"/>
<rect x="390.21" y="334.8" width="3.6" height="3.6" fill="#000000"/>
<rect x="395.72" y="332.47" width="3.6" height="3.6" fill="#000000"/>
<rect x="401.23" y="316.58" width="3.6" height="3.6" fill="#000000"/>
<rect x="406.74" y="295.36" width="3.6" height="3.6" fill="#000000"/>
<rect x="412.25" y="273.71" width="3.6" height="3.6" fill="#000000"/>
<rect x="417.76" y="245.72" width="3.6" height="3.6" fill="#000000"/>
<rect x="423.27" y="235.59" width="3.6" height="3.6" fill="#000000"/>
<rect x="428.78" y="231.43" width="3.6" height="3.6" fill="#000000"/>
<rect x="434.29" y="228.59" width="3.6" height="3.6" fill="#000000"/>
<rect x="439.8" y="226.69" width="3.6" height="3.6" fill="#000000"/>
<rect x="445.31" y="225.02" width="3.6" height="3.6" fill="#000000"/>
<rect x="450.82" y="223.7" width="3.6" height="3.6" fill="#000000"/>
<rect x="456.33" y="222.83" width="3.6" height="3.6" fill="#000000"/>
<rect x="461.84" y="221.88" width="3.6" height="3.6" fill="#000000"/>
<rect x="467.35" y="220.93" width="3.6" height="3.6" fill="#000000"/>
<rect x="472.86" y="220.2" width="3.6" height="3.6" fill="#000000"/>
<rect x="478.37" y="219.24" width="3.6" height="3.6" fill="#000000"/>
<rect x="483.88" y="218.38" width="3.6" height="3.6" fill="#000000"/>
<rect x="489.39" y="217.92" width="3.6" height="3.6" fill="#000000"/>
<rect x="494.9" y="217.51" width="3.6" height="3.6" fill="#000000"/>
<rect x="500.41" y="216.98" width="3.6" height="3.6" fill="#000000"/>
<rect x="505.92" y="216.41" width="3.6" height="3.6" fill="#000000"/>
<rect x="511.43" y="215.86" width="3.6" height="3.6" fill="#000000"/>
<rect x="516.94" y="215.32" width="3.6" height="3.6" fill="#000000"/>
<rect x="522.45" y="214.74" width="3.6" height="3.6" fill="#000000"/>
<rect x="527.96" y="214.3" width="3.6" height="3.6" fill="#000000"/>
<rect x="533.47" y="214.05" width="3.6" height="3.6" fill="#000000"/>
<rect x="538.98" y="213.93" width="3.6" height="3.6" fill="#000000"/>
<polyline points="276.3,235.93 281.81,252.48 287.32,268.59 292.83,279.23 298.34,285.21 303.85,289.36 309.36,293.81 314.87,298.91 320.38,302.12 325.89,304.67 331.4,307.59 336.91,309.12 342.42,311.09 347.93,312.9 353.44,314.51 358.95,315.84 364.46,316.99 369.97,318.01 375.48,318.89 380.99,319.59 386.5,320.27 392.01,321.08 397.52,321.08 403.03,314.3 408.54,304.45 414.05,299.35 419.56,294.25 425.07,284.77 430.58,273.62 436.09,265.38 441.6,259.62 447.11,255.61 452.62,251.67 458.13,248.39 463.64,245.92 469.15,243.29 474.66,240.67 480.17,238.17 485.68,235.93 491.19,234.1 496.7,232.5 502.21,231.14 507.72,229.8 513.23,228.17 518.74,226.6 524.25,225.34 529.76,224.26 535.27,223.32 540.78,222.51" fill="none" stroke="#ff0000" stroke-width="0.9" stroke-dasharray="2 1.3"/>
<circle cx="276.3" cy="235.93" r="2.1" fill="#ff0000"/>
<circle cx="281.81" cy="252.48" r="2.1" fill="#ff0000"/>
<circle cx="287.32" cy="268.59" r="2.1" fill="#ff0000"/>
<circle cx="292.83" cy="279.23" r="2.1" fill="#ff0000"/>
<circle cx="298.34" cy="285.21" r="2.1" fill="#ff0000"/>
<circle cx="303.85" cy="289.36" r="2.1" fill="#ff0000"/>
<circle cx="309.36" cy="293.81" r="2.1" fill="#ff0000"/>
<circle cx="314.87" cy="298.91" r="2.1" fill="#ff0000"/>
<circle cx="320.38" cy="302.12" r="2.1" fill="#ff0000"/>
<circle cx="325.89" cy="304.67" r="2.1" fill="#ff0000"/>
<circle cx="331.4" cy="307.59" r="2.1" fill="#ff0000"/>
<circle cx="336.91" cy="309.12" r="2.1" fill="#ff0000"/>
<circle cx="342.42" cy="311.09" r="2.1" fill="#ff0000"/>
<circle cx="347.93" cy="312.9" r="2.1" fill="#ff0000"/>
<circle cx="353.44" cy="314.51" r="2.1" fill="#ff0000"/>
<circle cx="358.95" cy="315.84" r="2.1" fill="#ff0000"/>
<circle cx="364.46" cy="316.99" r="2.1" fill="#ff0000"/>
<circle cx="369.97" cy="318.01" r="2.1" fill="#ff0000"/>
<circle cx="375.48" cy="318.89" r="2.1" fill="#ff0000"/>
<circle cx="380.99" cy="319.59" r="2.1" fill="#ff0000"/>
<circle cx="386.5" cy="320.27" r="2.1" fill="#ff0000"/>
<circle cx="392.01" cy="321.08" r="2.1" fill="#ff0000"/>
<circle cx="397.52" cy="321.08" r="2.1" fill="#ff0000"/>
<circle cx="403.03" cy="314.3" r="2.1" fill="#ff0000"/>
<circle cx="408.54" cy="304.45" r="2.1" fill="#ff0000"/>
<circle cx="414.05" cy="299.35" r="2.1" fill="#ff0000"/>
<circle cx="419.56" cy="294.25" r="2.1" fill="#ff0000"/>
<circle cx="425.07" cy="284.77" r="2.1" fill="#ff0000"/>
<circle cx="430.58" cy="273.62" r="2.1" fill="#ff0000"/>
<circle cx="436.09" cy="265.38" r="2.1" fill="#ff0000"/>
<circle cx="441.6" cy="259.62" r="2.1" fill="#ff0000"/>
<circle cx="447.11" cy="255.61" r="2.1" fill="#ff0000"/>
<circle cx="452.62" cy="251.67" r="2.1" fill="#ff0000"/>
<circle cx="458.13" cy="248.39" r="2.1" fill="#ff0000"/>
<circle cx="463.64" cy="245.92" r="2.1" fill="#ff0000"/>
<circle cx="469.15" cy="243.29" r="2.1" fill="#ff0000"/>
<circle cx="474.66" cy="240.67" r="2.1" fill="#ff0000"/>
<circle cx="480.17" cy="238.17" r="2.1" fill="#ff0000"/>
<circle cx="485.68" cy="235.93" r="2.1" fill="#ff0000"/>
<circle cx="491.19" cy="234.1" r="2.1" fill="#ff0000"/>
<circle cx="496.7" cy="232.5" r="2.1" fill="#ff0000"/>
<circle cx="502.21" cy="231.14" r="2.1" fill="#ff0000"/>
<circle cx="507.72" cy="229.8" r="2.1" fill="#ff0000"/>
<circle cx="513.23" cy="228.17" r="2.1" fill="#ff0000"/>
<circle cx="518.74" cy="226.6" r="2.1" fill="#ff0000"/>
<circle cx="524.25" cy="225.34" r="2.1" fill="#ff0000"/>
<circle cx="529.76" cy="224.26" r="2.1" fill="#ff0000"/>
<circle cx="535.27" cy="223.32" r="2.1" fill="#ff0000"/>
<circle cx="540.78" cy="222.51" r="2.1" fill="#ff0000"/>
<polyline points="276.3,234.47 281.81,246.72 287.32,261.37 292.83,272.23 298.34,278.79 303.85,283.6 309.36,286.23 314.87,289.36 320.38,291.92 325.89,295.12 331.4,297.89 336.91,299.93 342.42,302.7 347.93,305.02 353.44,307.01 358.95,308.66 364.46,310.14 369.97,311.66 375.48,312.91 380.99,313.69 386.5,314.3 392.01,314.91 397.52,315.24 403.03,311.09 408.54,300.88 414.05,297.02 419.56,295.2 425.07,294.25 430.58,286.96 436.09,279.38 441.6,271.72 447.11,266.04 452.62,262.17 458.13,258.09 463.64,254.3 469.15,251.38 474.66,248.54 480.17,245.43 485.68,242.49 491.19,240.14 496.7,237.97 502.21,235.69 507.72,233.52 513.23,231.55 518.74,229.8 524.25,228.34 529.76,227.03 535.27,225.82 540.78,224.7" fill="none" stroke="#00ee00" stroke-width="0.9" stroke-dasharray="2 1.3"/>
<path d="M276.3 231.88L278.7 236.2L273.9 236.2Z" fill="#00ee00"/>
<path d="M281.81 244.13L284.21 248.45L279.41 248.45Z" fill="#00ee00"/>
<path d="M287.32 258.78L289.72 263.1L284.92 263.1Z" fill="#00ee00"/>
<path d="M292.83 269.64L295.23 273.96L290.43 273.96Z" fill="#00ee00"/>
<path d="M298.34 276.2L300.74 280.52L295.94 280.52Z" fill="#00ee00"/>
<path d="M303.85 281.01L306.25 285.33L301.45 285.33Z" fill="#00ee00"/>
<path d="M309.36 283.64L311.76 287.96L306.96 287.96Z" fill="#00ee00"/>
<path d="M314.87 286.77L317.27 291.09L312.47 291.09Z" fill="#00ee00"/>
<path d="M320.38 289.32L322.78 293.64L317.98 293.64Z" fill="#00ee00"/>
<path d="M325.89 292.53L328.29 296.85L323.49 296.85Z" fill="#00ee00"/>
<path d="M331.4 295.3L333.8 299.62L329 299.62Z" fill="#00ee00"/>
<path d="M336.91 297.34L339.31 301.66L334.51 301.66Z" fill="#00ee00"/>
<path d="M342.42 300.11L344.82 304.43L340.02 304.43Z" fill="#00ee00"/>
<path d="M347.93 302.42L350.33 306.74L345.53 306.74Z" fill="#00ee00"/>
<path d="M353.44 304.41L355.84 308.73L351.04 308.73Z" fill="#00ee00"/>
<path d="M358.95 306.07L361.35 310.39L356.55 310.39Z" fill="#00ee00"/>
<path d="M364.46 307.55L366.86 311.87L362.06 311.87Z" fill="#00ee00"/>
<path d="M369.97 309.07L372.37 313.39L367.57 313.39Z" fill="#00ee00"/>
<path d="M375.48 310.32L377.88 314.64L373.08 314.64Z" fill="#00ee00"/>
<path d="M380.99 311.1L383.39 315.42L378.59 315.42Z" fill="#00ee00"/>
<path d="M386.5 311.7L388.9 316.02L384.1 316.02Z" fill="#00ee00"/>
<path d="M392.01 312.32L394.41 316.64L389.61 316.64Z" fill="#00ee00"/>
<path d="M397.52 312.65L399.92 316.97L395.12 316.97Z" fill="#00ee00"/>
<path d="M403.03 308.5L405.43 312.82L400.63 312.82Z" fill="#00ee00"/>
<path d="M408.54 298.29L410.94 302.61L406.14 302.61Z" fill="#00ee00"/>
<path d="M414.05 294.43L416.45 298.75L411.65 298.75Z" fill="#00ee00"/>
<path d="M419.56 292.6L421.96 296.92L417.16 296.92Z" fill="#00ee00"/>
<path d="M425.07 291.66L427.47 295.98L422.67 295.98Z" fill="#00ee00"/>
<path d="M430.58 284.37L432.98 288.69L428.18 288.69Z" fill="#00ee00"/>
<path d="M436.09 276.78L438.49 281.1L433.69 281.1Z" fill="#00ee00"/>
<path d="M441.6 269.13L444 273.45L439.2 273.45Z" fill="#00ee00"/>
<path d="M447.11 263.44L449.51 267.76L444.71 267.76Z" fill="#00ee00"/>
<path d="M452.62 259.58L455.02 263.9L450.22 263.9Z" fill="#00ee00"/>
<path d="M458.13 255.5L460.53 259.82L455.73 259.82Z" fill="#00ee00"/>
<path d="M463.64 251.71L466.04 256.03L461.24 256.03Z" fill="#00ee00"/>
<path d="M469.15 248.79L471.55 253.11L466.75 253.11Z" fill="#00ee00"/>
<path d="M474.66 245.95L477.06 250.27L472.26 250.27Z" fill="#00ee00"/>
<path d="M480.17 242.84L482.57 247.16L477.77 247.16Z" fill="#00ee00"/>
<path d="M485.68 239.9L488.08 244.22L483.28 244.22Z" fill="#00ee00"/>
<path d="M491.19 237.55L493.59 241.87L488.79 241.87Z" fill="#00ee00"/>
<path d="M496.7 235.38L499.1 239.7L494.3 239.7Z" fill="#00ee00"/>
<path d="M502.21 233.1L504.61 237.42L499.81 237.42Z" fill="#00ee00"/>
<path d="M507.72 230.93L510.12 235.25L505.32 235.25Z" fill="#00ee00"/>
<path d="M513.23 228.96L515.63 233.28L510.83 233.28Z" fill="#00ee00"/>
<path d="M518.74 227.21L521.14 231.53L516.34 231.53Z" fill="#00ee00"/>
<path d="M524.25 225.75L526.65 230.07L521.85 230.07Z" fill="#00ee00"/>
<path d="M529.76 224.44L532.16 228.76L527.36 228.76Z" fill="#00ee00"/>
<path d="M535.27 223.22L537.67 227.54L532.87 227.54Z" fill="#00ee00"/>
<path d="M540.78 222.11L543.18 226.43L538.38 226.43Z" fill="#00ee00"/>
<polyline points="276.3,230.82 281.81,239.14 287.32,248.61 292.83,258.16 298.34,265.23 303.85,270.92 309.36,275 314.87,278.28 320.38,281.71 325.89,284.74 331.4,286.81 336.91,287.54 342.42,288.12 347.93,288.99 353.44,290.02 358.95,291.32 364.46,292.72 369.97,293.96 375.48,295.2 380.99,296.47 386.5,297.89 392.01,299.79 397.52,300.23 403.03,299.27 408.54,297.53 414.05,295.71 419.56,294.98 425.07,294.98 430.58,294.98 436.09,294.98 441.6,294.98 447.11,294.98 452.62,294.98 458.13,282.29 463.64,276.17 469.15,271.72 474.66,266.98 480.17,262.5 485.68,258.38 491.19,254.85 496.7,251.6 502.21,248.44 507.72,245.48 513.23,242.8 518.74,240.3 524.25,237.88 529.76,235.64 535.27,233.61 540.78,231.77" fill="none" stroke="#0000ff" stroke-width="0.9" stroke-dasharray="2 1.3"/>
<path d="M276.3 233.42L278.7 229.1L273.9 229.1Z" fill="#0000ff"/>
<path d="M281.81 241.73L284.21 237.41L279.41 237.41Z" fill="#0000ff"/>
<path d="M287.32 251.2L289.72 246.88L284.92 246.88Z" fill="#0000ff"/>
<path d="M292.83 260.75L295.23 256.43L290.43 256.43Z" fill="#0000ff"/>
<path d="M298.34 267.83L300.74 263.51L295.94 263.51Z" fill="#0000ff"/>
<path d="M303.85 273.51L306.25 269.19L301.45 269.19Z" fill="#0000ff"/>
<path d="M309.36 277.59L311.76 273.27L306.96 273.27Z" fill="#0000ff"/>
<path d="M314.87 280.87L317.27 276.55L312.47 276.55Z" fill="#0000ff"/>
<path d="M320.38 284.3L322.78 279.98L317.98 279.98Z" fill="#0000ff"/>
<path d="M325.89 287.34L328.29 283.02L323.49 283.02Z" fill="#0000ff"/>
<path d="M331.4 289.4L333.8 285.08L329 285.08Z" fill="#0000ff"/>
<path d="M336.91 290.13L339.31 285.81L334.51 285.81Z" fill="#0000ff"/>
<path d="M342.42 290.72L344.82 286.4L340.02 286.4Z" fill="#0000ff"/>
<path d="M347.93 291.58L350.33 287.26L345.53 287.26Z" fill="#0000ff"/>
<path d="M353.44 292.61L355.84 288.29L351.04 288.29Z" fill="#0000ff"/>
<path d="M358.95 293.92L361.35 289.6L356.55 289.6Z" fill="#0000ff"/>
<path d="M364.46 295.31L366.86 290.99L362.06 290.99Z" fill="#0000ff"/>
<path d="M369.97 296.55L372.37 292.23L367.57 292.23Z" fill="#0000ff"/>
<path d="M375.48 297.79L377.88 293.47L373.08 293.47Z" fill="#0000ff"/>
<path d="M380.99 299.06L383.39 294.74L378.59 294.74Z" fill="#0000ff"/>
<path d="M386.5 300.48L388.9 296.16L384.1 296.16Z" fill="#0000ff"/>
<path d="M392.01 302.38L394.41 298.06L389.61 298.06Z" fill="#0000ff"/>
<path d="M397.52 302.82L399.92 298.5L395.12 298.5Z" fill="#0000ff"/>
<path d="M403.03 301.86L405.43 297.54L400.63 297.54Z" fill="#0000ff"/>
<path d="M408.54 300.12L410.94 295.8L406.14 295.8Z" fill="#0000ff"/>
<path d="M414.05 298.3L416.45 293.98L411.65 293.98Z" fill="#0000ff"/>
<path d="M419.56 297.57L421.96 293.25L417.16 293.25Z" fill="#0000ff"/>
<path d="M425.07 297.57L427.47 293.25L422.67 293.25Z" fill="#0000ff"/>
<path d="M430.58 297.57L432.98 293.25L428.18 293.25Z" fill="#0000ff"/>
<path d="M436.09 297.57L438.49 293.25L433.69 293.25Z" fill="#0000ff"/>
<path d="M441.6 297.57L444 293.25L439.2 293.25Z" fill="#0000ff"/>
<path d="M447.11 297.57L449.51 293.25L444.71 293.25Z" fill="#0000ff"/>
<path d="M452.62 297.57L455.02 293.25L450.22 293.25Z" fill="#0000ff"/>
<path d="M458.13 284.88L460.53 280.56L455.73 280.56Z" fill="#0000ff"/>
<path d="M463.64 278.76L466.04 274.44L461.24 274.44Z" fill="#0000ff"/>
<path d="M469.15 274.31L471.55 269.99L466.75 269.99Z" fill="#0000ff"/>
<path d="M474.66 269.58L477.06 265.26L472.26 265.26Z" fill="#0000ff"/>
<path d="M480.17 265.09L482.57 260.77L477.77 260.77Z" fill="#0000ff"/>
<path d="M485.68 260.97L488.08 256.65L483.28 256.65Z" fill="#0000ff"/>
<path d="M491.19 257.44L493.59 253.12L488.79 253.12Z" fill="#0000ff"/>
<path d="M496.7 254.19L499.1 249.87L494.3 249.87Z" fill="#0000ff"/>
<path d="M502.21 251.03L504.61 246.71L499.81 246.71Z" fill="#0000ff"/>
<path d="M507.72 248.07L510.12 243.75L505.32 243.75Z" fill="#0000ff"/>
<path d="M513.23 245.39L515.63 241.07L510.83 241.07Z" fill="#0000ff"/>
<path d="M518.74 242.89L521.14 238.57L516.34 238.57Z" fill="#0000ff"/>
<path d="M524.25 240.48L526.65 236.16L521.85 236.16Z" fill="#0000ff"/>
<path d="M529.76 238.23L532.16 233.91L527.36 233.91Z" fill="#0000ff"/>
<path d="M535.27 236.2L537.67 231.88L532.87 231.88Z" fill="#0000ff"/>
<path d="M540.78 234.36L543.18 230.04L538.38 230.04Z" fill="#0000ff"/>
<polyline points="276.3,230.1 281.81,236.8 287.32,243.51 292.83,252.77 298.34,260.13 303.85,265.6 309.36,270.34 314.87,274.13 320.38,278.5 325.89,279.81 331.4,282.37 336.91,284.7 342.42,285.21 347.93,286.17 353.44,287.32 358.95,288.4 364.46,289.36 369.97,290.05 375.48,290.68 380.99,291.37 386.5,292.06 392.01,292.8 397.52,293.37 403.03,293.62 408.54,293.81 414.05,294.03 419.56,294.03 425.07,294.01 430.58,293.99 436.09,293.94 441.6,293.88 447.11,293.79 452.62,293.67 458.13,293.52 463.64,285.86 469.15,280.03 474.66,275.22 480.17,270.29 485.68,265.6 491.19,261.5 496.7,257.73 502.21,254.22 507.72,250.87 513.23,247.51 518.74,244.38 524.25,241.69 529.76,239.28 535.27,237.12 540.78,235.2" fill="none" stroke="#00ffff" stroke-width="0.9" stroke-dasharray="2 1.3"/>
<path d="M276.3 227.8L278.6 230.1L276.3 232.4L274 230.1Z" fill="#00ffff"/>
<path d="M281.81 234.5L284.11 236.8L281.81 239.1L279.51 236.8Z" fill="#00ffff"/>
<path d="M287.32 241.21L289.62 243.51L287.32 245.81L285.02 243.51Z" fill="#00ffff"/>
<path d="M292.83 250.47L295.13 252.77L292.83 255.07L290.53 252.77Z" fill="#00ffff"/>
<path d="M298.34 257.83L300.64 260.13L298.34 262.43L296.04 260.13Z" fill="#00ffff"/>
<path d="M303.85 263.3L306.15 265.6L303.85 267.9L301.55 265.6Z" fill="#00ffff"/>
<path d="M309.36 268.04L311.66 270.34L309.36 272.64L307.06 270.34Z" fill="#00ffff"/>
<path d="M314.87 271.83L317.17 274.13L314.87 276.43L312.57 274.13Z" fill="#00ffff"/>
<path d="M320.38 276.2L322.68 278.5L320.38 280.8L318.08 278.5Z" fill="#00ffff"/>
<path d="M325.89 277.51L328.19 279.81L325.89 282.11L323.59 279.81Z" fill="#00ffff"/>
<path d="M331.4 280.07L333.7 282.37L331.4 284.67L329.1 282.37Z" fill="#00ffff"/>
<path d="M336.91 282.4L339.21 284.7L336.91 287L334.61 284.7Z" fill="#00ffff"/>
<path d="M342.42 282.91L344.72 285.21L342.42 287.51L340.12 285.21Z" fill="#00ffff"/>
<path d="M347.93 283.87L350.23 286.17L347.93 288.47L345.63 286.17Z" fill="#00ffff"/>
<path d="M353.44 285.02L355.74 287.32L353.44 289.62L351.14 287.32Z" fill="#00ffff"/>
<path d="M358.95 286.1L361.25 288.4L358.95 290.7L356.65 288.4Z" fill="#00ffff"/>
<path d="M364.46 287.06L366.76 289.36L364.46 291.66L362.16 289.36Z" fill="#00ffff"/>
<path d="M369.97 287.75L372.27 290.05L369.97 292.35L367.67 290.05Z" fill="#00ffff"/>
<path d="M375.48 288.38L377.78 290.68L375.48 292.98L373.18 290.68Z" fill="#00ffff"/>
<path d="M380.99 289.07L383.29 291.37L380.99 293.67L378.69 291.37Z" fill="#00ffff"/>
<path d="M386.5 289.76L388.8 292.06L386.5 294.36L384.2 292.06Z" fill="#00ffff"/>
<path d="M392.01 290.5L394.31 292.8L392.01 295.1L389.71 292.8Z" fill="#00ffff"/>
<path d="M397.52 291.07L399.82 293.37L397.52 295.67L395.22 293.37Z" fill="#00ffff"/>
<path d="M403.03 291.32L405.33 293.62L403.03 295.92L400.73 293.62Z" fill="#00ffff"/>
<path d="M408.54 291.51L410.84 293.81L408.54 296.11L406.24 293.81Z" fill="#00ffff"/>
<path d="M414.05 291.73L416.35 294.03L414.05 296.33L411.75 294.03Z" fill="#00ffff"/>
<path d="M419.56 291.73L421.86 294.03L419.56 296.33L417.26 294.03Z" fill="#00ffff"/>
<path d="M425.07 291.71L427.37 294.01L425.07 296.31L422.77 294.01Z" fill="#00ffff"/>
<path d="M430.58 291.69L432.88 293.99L430.58 296.29L428.28 293.99Z" fill="#00ffff"/>
<path d="M436.09 291.64L438.39 293.94L436.09 296.24L433.79 293.94Z" fill="#00ffff"/>
<path d="M441.6 291.58L443.9 293.88L441.6 296.18L439.3 293.88Z" fill="#00ffff"/>
<path d="M447.11 291.49L449.41 293.79L447.11 296.09L444.81 293.79Z" fill="#00ffff"/>
<path d="M452.62 291.37L454.92 293.67L452.62 295.97L450.32 293.67Z" fill="#00ffff"/>
<path d="M458.13 291.22L460.43 293.52L458.13 295.82L455.83 293.52Z" fill="#00ffff"/>
<path d="M463.64 283.56L465.94 285.86L463.64 288.16L461.34 285.86Z" fill="#00ffff"/>
<path d="M469.15 277.73L471.45 280.03L469.15 282.33L466.85 280.03Z" fill="#00ffff"/>
<path d="M474.66 272.92L476.96 275.22L474.66 277.52L472.36 275.22Z" fill="#00ffff"/>
<path d="M480.17 267.99L482.47 270.29L480.17 272.59L477.87 270.29Z" fill="#00ffff"/>
<path d="M485.68 263.3L487.98 265.6L485.68 267.9L483.38 265.6Z" fill="#00ffff"/>
<path d="M491.19 259.2L493.49 261.5L491.19 263.8L488.89 261.5Z" fill="#00ffff"/>
<path d="M496.7 255.43L499 257.73L496.7 260.03L494.4 257.73Z" fill="#00ffff"/>
<path d="M502.21 251.92L504.51 254.22L502.21 256.52L499.91 254.22Z" fill="#00ffff"/>
<path d="M507.72 248.57L510.02 250.87L507.72 253.17L505.42 250.87Z" fill="#00ffff"/>
<path d="M513.23 245.21L515.53 247.51L513.23 249.81L510.93 247.51Z" fill="#00ffff"/>
<path d="M518.74 242.08L521.04 244.38L518.74 246.68L516.44 244.38Z" fill="#00ffff"/>
<path d="M524.25 239.39L526.55 241.69L524.25 243.99L521.95 241.69Z" fill="#00ffff"/>
<path d="M529.76 236.98L532.06 239.28L529.76 241.58L527.46 239.28Z" fill="#00ffff"/>
<path d="M535.27 234.82L537.57 237.12L535.27 239.42L532.97 237.12Z" fill="#00ffff"/>
<path d="M540.78 232.9L543.08 235.2L540.78 237.5L538.48 235.2Z" fill="#00ffff"/>
<polyline points="276.3,228.64 281.81,233.01 287.32,237.82 292.83,244.24 298.34,250.51 303.85,256.92 309.36,261.44 314.87,266.55 320.38,270.7 325.89,274.13 331.4,277.34 336.91,279.81 342.42,281.78 347.93,282.92 353.44,283.9 358.95,285.15 364.46,286.23 369.97,286.88 375.48,287.32 380.99,287.59 386.5,287.76 392.01,287.9 397.52,288.05 403.03,288.27 408.54,288.63 414.05,289.87 419.56,289.87 425.07,289.87 430.58,289.87 436.09,289.87 441.6,289.87 447.11,289.87 452.62,289.87 458.13,289.87 463.64,289.87 469.15,289.87 474.66,289.87 480.17,282.73 485.68,276.82 491.19,271.48 496.7,266.62 502.21,262.36 507.72,258.38 513.23,254.31 518.74,250.58 524.25,247.6 529.76,244.82 535.27,241.89 540.78,238.92" fill="none" stroke="#ff00ff" stroke-width="0.9" stroke-dasharray="2 1.3"/>
<path d="M273.82 228.64L277.96 226.34L277.96 230.94Z" fill="#ff00ff"/>
<path d="M279.33 233.01L283.47 230.71L283.47 235.31Z" fill="#ff00ff"/>
<path d="M284.84 237.82L288.98 235.52L288.98 240.12Z" fill="#ff00ff"/>
<path d="M290.35 244.24L294.49 241.94L294.49 246.54Z" fill="#ff00ff"/>
<path d="M295.86 250.51L300 248.21L300 252.81Z" fill="#ff00ff"/>
<path d="M301.37 256.92L305.51 254.62L305.51 259.22Z" fill="#ff00ff"/>
<path d="M306.88 261.44L311.02 259.14L311.02 263.74Z" fill="#ff00ff"/>
<path d="M312.39 266.55L316.53 264.25L316.53 268.85Z" fill="#ff00ff"/>
<path d="M317.9 270.7L322.04 268.4L322.04 273Z" fill="#ff00ff"/>
<path d="M323.41 274.13L327.55 271.83L327.55 276.43Z" fill="#ff00ff"/>
<path d="M328.92 277.34L333.06 275.04L333.06 279.64Z" fill="#ff00ff"/>
<path d="M334.43 279.81L338.57 277.51L338.57 282.11Z" fill="#ff00ff"/>
<path d="M339.94 281.78L344.08 279.48L344.08 284.08Z" fill="#ff00ff"/>
<path d="M345.45 282.92L349.59 280.62L349.59 285.22Z" fill="#ff00ff"/>
<path d="M350.96 283.9L355.1 281.6L355.1 286.2Z" fill="#ff00ff"/>
<path d="M356.47 285.15L360.61 282.85L360.61 287.45Z" fill="#ff00ff"/>
<path d="M361.98 286.23L366.12 283.93L366.12 288.53Z" fill="#ff00ff"/>
<path d="M367.49 286.88L371.63 284.58L371.63 289.18Z" fill="#ff00ff"/>
<path d="M373 287.32L377.14 285.02L377.14 289.62Z" fill="#ff00ff"/>
<path d="M378.51 287.59L382.65 285.29L382.65 289.89Z" fill="#ff00ff"/>
<path d="M384.02 287.76L388.16 285.46L388.16 290.06Z" fill="#ff00ff"/>
<path d="M389.53 287.9L393.67 285.6L393.67 290.2Z" fill="#ff00ff"/>
<path d="M395.04 288.05L399.18 285.75L399.18 290.35Z" fill="#ff00ff"/>
<path d="M400.55 288.27L404.69 285.97L404.69 290.57Z" fill="#ff00ff"/>
<path d="M406.06 288.63L410.2 286.33L410.2 290.93Z" fill="#ff00ff"/>
<path d="M411.57 289.87L415.71 287.57L415.71 292.17Z" fill="#ff00ff"/>
<path d="M417.08 289.87L421.22 287.57L421.22 292.17Z" fill="#ff00ff"/>
<path d="M422.59 289.87L426.73 287.57L426.73 292.17Z" fill="#ff00ff"/>
<path d="M428.1 289.87L432.24 287.57L432.24 292.17Z" fill="#ff00ff"/>
<path d="M433.61 289.87L437.75 287.57L437.75 292.17Z" fill="#ff00ff"/>
<path d="M439.12 289.87L443.26 287.57L443.26 292.17Z" fill="#ff00ff"/>
<path d="M444.63 289.87L448.77 287.57L448.77 292.17Z" fill="#ff00ff"/>
<path d="M450.14 289.87L454.28 287.57L454.28 292.17Z" fill="#ff00ff"/>
<path d="M455.65 289.87L459.79 287.57L459.79 292.17Z" fill="#ff00ff"/>
<path d="M461.16 289.87L465.3 287.57L465.3 292.17Z" fill="#ff00ff"/>
<path d="M466.67 289.87L470.81 287.57L470.81 292.17Z" fill="#ff00ff"/>
<path d="M472.18 289.87L476.32 287.57L476.32 292.17Z" fill="#ff00ff"/>
<path d="M477.69 282.73L481.83 280.43L481.83 285.03Z" fill="#ff00ff"/>
<path d="M483.2 276.82L487.34 274.52L487.34 279.12Z" fill="#ff00ff"/>
<path d="M488.71 271.48L492.85 269.18L492.85 273.78Z" fill="#ff00ff"/>
<path d="M494.22 266.62L498.36 264.32L498.36 268.92Z" fill="#ff00ff"/>
<path d="M499.73 262.36L503.87 260.06L503.87 264.66Z" fill="#ff00ff"/>
<path d="M505.24 258.38L509.38 256.08L509.38 260.68Z" fill="#ff00ff"/>
<path d="M510.75 254.31L514.89 252.01L514.89 256.61Z" fill="#ff00ff"/>
<path d="M516.26 250.58L520.4 248.28L520.4 252.88Z" fill="#ff00ff"/>
<path d="M521.77 247.6L525.91 245.3L525.91 249.9Z" fill="#ff00ff"/>
<path d="M527.28 244.82L531.42 242.52L531.42 247.12Z" fill="#ff00ff"/>
<path d="M532.79 241.89L536.93 239.59L536.93 244.19Z" fill="#ff00ff"/>
<path d="M538.3 238.92L542.44 236.62L542.44 241.22Z" fill="#ff00ff"/>
<polyline points="276.3,228.27 281.81,231.19 287.32,235.2 292.83,240.3 298.34,246.13 303.85,251.97 309.36,257.07 314.87,262.17 320.38,266.91 325.89,270.92 331.4,274.56 336.91,277.48 342.42,279.67 347.93,281.23 353.44,282.58 358.95,283.99 364.46,285.14 369.97,285.88 375.48,286.37 380.99,286.68 386.5,286.9 392.01,287.08 397.52,287.24 403.03,287.44 408.54,287.69 414.05,288.05 419.56,288.05 425.07,288.05 430.58,288.05 436.09,288.05 441.6,288.05 447.11,288.05 452.62,288.05 458.13,288.05 463.64,288.05 469.15,288.05 474.66,288.05 480.17,288.05 485.68,288.05 491.19,282.73 496.7,276.1 502.21,270.81 507.72,265.89 513.23,260.62 518.74,255.68 524.25,251.48 529.76,247.88 535.27,244.91 540.78,242.49" fill="none" stroke="#ffff00" stroke-width="0.9" stroke-dasharray="2 1.3"/>
<path d="M278.78 228.27L274.64 225.97L274.64 230.57Z" fill="#ffff00"/>
<path d="M284.29 231.19L280.15 228.89L280.15 233.49Z" fill="#ffff00"/>
<path d="M289.8 235.2L285.66 232.9L285.66 237.5Z" fill="#ffff00"/>
<path d="M295.31 240.3L291.17 238L291.17 242.6Z" fill="#ffff00"/>
<path d="M300.82 246.13L296.68 243.83L296.68 248.43Z" fill="#ffff00"/>
<path d="M306.33 251.97L302.19 249.67L302.19 254.27Z" fill="#ffff00"/>
<path d="M311.84 257.07L307.7 254.77L307.7 259.37Z" fill="#ffff00"/>
<path d="M317.35 262.17L313.21 259.87L313.21 264.47Z" fill="#ffff00"/>
<path d="M322.86 266.91L318.72 264.61L318.72 269.21Z" fill="#ffff00"/>
<path d="M328.37 270.92L324.23 268.62L324.23 273.22Z" fill="#ffff00"/>
<path d="M333.88 274.56L329.74 272.26L329.74 276.87Z" fill="#ffff00"/>
<path d="M339.39 277.48L335.25 275.18L335.25 279.78Z" fill="#ffff00"/>
<path d="M344.9 279.67L340.76 277.37L340.76 281.97Z" fill="#ffff00"/>
<path d="M350.41 281.23L346.27 278.93L346.27 283.53Z" fill="#ffff00"/>
<path d="M355.92 282.58L351.78 280.28L351.78 284.88Z" fill="#ffff00"/>
<path d="M361.43 283.99L357.29 281.69L357.29 286.29Z" fill="#ffff00"/>
<path d="M366.94 285.14L362.8 282.84L362.8 287.44Z" fill="#ffff00"/>
<path d="M372.45 285.88L368.31 283.58L368.31 288.18Z" fill="#ffff00"/>
<path d="M377.96 286.37L373.82 284.07L373.82 288.67Z" fill="#ffff00"/>
<path d="M383.47 286.68L379.33 284.38L379.33 288.98Z" fill="#ffff00"/>
<path d="M388.98 286.9L384.84 284.6L384.84 289.2Z" fill="#ffff00"/>
<path d="M394.49 287.08L390.35 284.78L390.35 289.38Z" fill="#ffff00"/>
<path d="M400 287.24L395.86 284.94L395.86 289.54Z" fill="#ffff00"/>
<path d="M405.51 287.44L401.37 285.14L401.37 289.74Z" fill="#ffff00"/>
<path d="M411.02 287.69L406.88 285.39L406.88 289.99Z" fill="#ffff00"/>
<path d="M416.53 288.05L412.39 285.75L412.39 290.35Z" fill="#ffff00"/>
<path d="M422.04 288.05L417.9 285.75L417.9 290.35Z" fill="#ffff00"/>
<path d="M427.55 288.05L423.41 285.75L423.41 290.35Z" fill="#ffff00"/>
<path d="M433.06 288.05L428.92 285.75L428.92 290.35Z" fill="#ffff00"/>
<path d="M438.57 288.05L434.43 285.75L434.43 290.35Z" fill="#ffff00"/>
<path d="M444.08 288.05L439.94 285.75L439.94 290.35Z" fill="#ffff00"/>
<path d="M449.59 288.05L445.45 285.75L445.45 290.35Z" fill="#ffff00"/>
<path d="M455.1 288.05L450.96 285.75L450.96 290.35Z" fill="#ffff00"/>
<path d="M460.61 288.05L456.47 285.75L456.47 290.35Z" fill="#ffff00"/>
<path d="M466.12 288.05L461.98 285.75L461.98 290.35Z" fill="#ffff00"/>
<path d="M471.63 288.05L467.49 285.75L467.49 290.35Z" fill="#ffff00"/>
<path d="M477.14 288.05L473 285.75L473 290.35Z" fill="#ffff00"/>
<path d="M482.65 288.05L478.51 285.75L478.51 290.35Z" fill="#ffff00"/>
<path d="M488.16 288.05L484.02 285.75L484.02 290.35Z" fill="#ffff00"/>
<path d="M493.67 282.73L489.53 280.43L489.53 285.03Z" fill="#ffff00"/>
<path d="M499.18 276.1L495.04 273.8L495.04 278.4Z" fill="#ffff00"/>
<path d="M504.69 270.81L500.55 268.51L500.55 273.11Z" fill="#ffff00"/>
<path d="M510.2 265.89L506.06 263.59L506.06 268.19Z" fill="#ffff00"/>
<path d="M515.71 260.62L511.57 258.32L511.57 262.92Z" fill="#ffff00"/>
<path d="M521.22 255.68L517.08 253.38L517.08 257.98Z" fill="#ffff00"/>
<path d="M526.73 251.48L522.59 249.18L522.59 253.78Z" fill="#ffff00"/>
<path d="M532.24 247.88L528.1 245.58L528.1 250.18Z" fill="#ffff00"/>
<path d="M537.75 244.91L533.61 242.61L533.61 247.21Z" fill="#ffff00"/>
<path d="M543.26 242.49L539.12 240.19L539.12 244.79Z" fill="#ffff00"/>
<polyline points="276.3,227.91 281.81,229.88 287.32,232.5 292.83,236.29 298.34,241.61 303.85,247.01 309.36,252.77 314.87,258.16 320.38,263.27 325.89,267.71 331.4,271.5 336.91,274.71 342.42,277.48 347.93,279.81 353.44,281.49 358.95,283.18 364.46,284.48 369.97,285.12 375.48,285.57 380.99,285.97 386.5,286.23 392.01,286.34 397.52,286.4 403.03,286.47 408.54,286.59 414.05,286.96 419.56,286.96 425.07,286.96 430.58,286.96 436.09,286.96 441.6,286.96 447.11,286.96 452.62,286.96 458.13,286.96 463.64,286.96 469.15,286.96 474.66,286.96 480.17,286.96 485.68,286.96 491.19,286.96 496.7,283.02 502.21,275.51 507.72,268.88 513.23,263.92 518.74,258.38 524.25,254.11 529.76,250.58 535.27,247.61 540.78,245.19" fill="none" stroke="#808000" stroke-width="0.9" stroke-dasharray="2 1.3"/>
<circle cx="276.3" cy="227.91" r="2.15" fill="#808000"/>
<circle cx="281.81" cy="229.88" r="2.15" fill="#808000"/>
<circle cx="287.32" cy="232.5" r="2.15" fill="#808000"/>
<circle cx="292.83" cy="236.29" r="2.15" fill="#808000"/>
<circle cx="298.34" cy="241.61" r="2.15" fill="#808000"/>
<circle cx="303.85" cy="247.01" r="2.15" fill="#808000"/>
<circle cx="309.36" cy="252.77" r="2.15" fill="#808000"/>
<circle cx="314.87" cy="258.16" r="2.15" fill="#808000"/>
<circle cx="320.38" cy="263.27" r="2.15" fill="#808000"/>
<circle cx="325.89" cy="267.71" r="2.15" fill="#808000"/>
<circle cx="331.4" cy="271.5" r="2.15" fill="#808000"/>
<circle cx="336.91" cy="274.71" r="2.15" fill="#808000"/>
<circle cx="342.42" cy="277.48" r="2.15" fill="#808000"/>
<circle cx="347.93" cy="279.81" r="2.15" fill="#808000"/>
<circle cx="353.44" cy="281.49" r="2.15" fill="#808000"/>
<circle cx="358.95" cy="283.18" r="2.15" fill="#808000"/>
<circle cx="364.46" cy="284.48" r="2.15" fill="#808000"/>
<circle cx="369.97" cy="285.12" r="2.15" fill="#808000"/>
<circle cx="375.48" cy="285.57" r="2.15" fill="#808000"/>
<circle cx="380.99" cy="285.97" r="2.15" fill="#808000"/>
<circle cx="386.5" cy="286.23" r="2.15" fill="#808000"/>
<circle cx="392.01" cy="286.34" r="2.15" fill="#808000"/>
<circle cx="397.52" cy="286.4" r="2.15" fill="#808000"/>
<circle cx="403.03" cy="286.47" r="2.15" fill="#808000"/>
<circle cx="408.54" cy="286.59" r="2.15" fill="#808000"/>
<circle cx="414.05" cy="286.96" r="2.15" fill="#808000"/>
<circle cx="419.56" cy="286.96" r="2.15" fill="#808000"/>
<circle cx="425.07" cy="286.96" r="2.15" fill="#808000"/>
<circle cx="430.58" cy="286.96" r="2.15" fill="#808000"/>
<circle cx="436.09" cy="286.96" r="2.15" fill="#808000"/>
<circle cx="441.6" cy="286.96" r="2.15" fill="#808000"/>
<circle cx="447.11" cy="286.96" r="2.15" fill="#808000"/>
<circle cx="452.62" cy="286.96" r="2.15" fill="#808000"/>
<circle cx="458.13" cy="286.96" r="2.15" fill="#808000"/>
<circle cx="463.64" cy="286.96" r="2.15" fill="#808000"/>
<circle cx="469.15" cy="286.96" r="2.15" fill="#808000"/>
<circle cx="474.66" cy="286.96" r="2.15" fill="#808000"/>
<circle cx="480.17" cy="286.96" r="2.15" fill="#808000"/>
<circle cx="485.68" cy="286.96" r="2.15" fill="#808000"/>
<circle cx="491.19" cy="286.96" r="2.15" fill="#808000"/>
<circle cx="496.7" cy="283.02" r="2.15" fill="#808000"/>
<circle cx="502.21" cy="275.51" r="2.15" fill="#808000"/>
<circle cx="507.72" cy="268.88" r="2.15" fill="#808000"/>
<circle cx="513.23" cy="263.92" r="2.15" fill="#808000"/>
<circle cx="518.74" cy="258.38" r="2.15" fill="#808000"/>
<circle cx="524.25" cy="254.11" r="2.15" fill="#808000"/>
<circle cx="529.76" cy="250.58" r="2.15" fill="#808000"/>
<circle cx="535.27" cy="247.61" r="2.15" fill="#808000"/>
<circle cx="540.78" cy="245.19" r="2.15" fill="#808000"/>
<rect x="276.3" y="212.5" width="265" height="131.5" fill="none" stroke="#222" stroke-width="1.1"/>
<line x1="276.3" y1="344" x2="276.3" y2="348.3" stroke="#222" stroke-width="1"/>
<text x="276.3" y="360" font-size="10" text-anchor="middle" >0</text>
<line x1="298.34" y1="344" x2="298.34" y2="346.3" stroke="#222" stroke-width="1"/>
<line x1="320.38" y1="344" x2="320.38" y2="348.3" stroke="#222" stroke-width="1"/>
<text x="320.38" y="360" font-size="10" text-anchor="middle" >4</text>
<line x1="342.42" y1="344" x2="342.42" y2="346.3" stroke="#222" stroke-width="1"/>
<line x1="364.46" y1="344" x2="364.46" y2="348.3" stroke="#222" stroke-width="1"/>
<text x="364.46" y="360" font-size="10" text-anchor="middle" >8</text>
<line x1="386.5" y1="344" x2="386.5" y2="346.3" stroke="#222" stroke-width="1"/>
<line x1="408.54" y1="344" x2="408.54" y2="348.3" stroke="#222" stroke-width="1"/>
<text x="408.54" y="360" font-size="10" text-anchor="middle" >12</text>
<line x1="430.58" y1="344" x2="430.58" y2="346.3" stroke="#222" stroke-width="1"/>
<line x1="452.62" y1="344" x2="452.62" y2="348.3" stroke="#222" stroke-width="1"/>
<text x="452.62" y="360" font-size="10" text-anchor="middle" >16</text>
<line x1="474.66" y1="344" x2="474.66" y2="346.3" stroke="#222" stroke-width="1"/>
<line x1="496.7" y1="344" x2="496.7" y2="348.3" stroke="#222" stroke-width="1"/>
<text x="496.7" y="360" font-size="10" text-anchor="middle" >20</text>
<line x1="518.74" y1="344" x2="518.74" y2="346.3" stroke="#222" stroke-width="1"/>
<line x1="540.78" y1="344" x2="540.78" y2="348.3" stroke="#222" stroke-width="1"/>
<text x="540.78" y="360" font-size="10" text-anchor="middle" >24</text>
<line x1="272.8" y1="227.18" x2="276.3" y2="227.18" stroke="#222" stroke-width="1"/>
<text x="268.1" y="230.48" font-size="10" text-anchor="end" >8</text>
<line x1="272.8" y1="256.34" x2="276.3" y2="256.34" stroke="#222" stroke-width="1"/>
<text x="268.1" y="259.64" font-size="10" text-anchor="end" >4</text>
<line x1="272.8" y1="285.5" x2="276.3" y2="285.5" stroke="#222" stroke-width="1"/>
<text x="268.1" y="288.8" font-size="10" text-anchor="end" >0</text>
<line x1="272.8" y1="314.66" x2="276.3" y2="314.66" stroke="#222" stroke-width="1"/>
<text x="268.1" y="317.96" font-size="10" text-anchor="end" >−4</text>
<line x1="272.8" y1="343.82" x2="276.3" y2="343.82" stroke="#222" stroke-width="1"/>
<text x="268.1" y="347.12" font-size="10" text-anchor="end" >−8</text>
<text x="262" y="211.8" font-size="12.4" text-anchor="start" >(c)</text>
<line x1="279" y1="383.5" x2="302.5" y2="383.5" stroke="#000000" stroke-width="1.2" stroke-dasharray="2.6 1.2"/>
<rect x="288.55" y="381.25" width="4.5" height="4.5" fill="#000000"/>
<text x="305.5" y="387" font-size="10.2" text-anchor="start" >14cm</text>
<line x1="336.3" y1="383.5" x2="359.8" y2="383.5" stroke="#ff0000" stroke-width="1.2" stroke-dasharray="2.6 1.2"/>
<circle cx="348.1" cy="383.5" r="2.25" fill="#ff0000"/>
<text x="362.8" y="387" font-size="10.2" text-anchor="start" >12cm</text>
<line x1="393" y1="383.5" x2="416.5" y2="383.5" stroke="#00ee00" stroke-width="1.2" stroke-dasharray="2.6 1.2"/>
<path d="M404.8 381.07L407.05 385.12L402.55 385.12Z" fill="#00ee00"/>
<text x="419.5" y="387" font-size="10.2" text-anchor="start" >10cm</text>
<line x1="450" y1="383.5" x2="473.5" y2="383.5" stroke="#0000ff" stroke-width="1.2" stroke-dasharray="2.6 1.2"/>
<path d="M461.8 385.93L464.05 381.88L459.55 381.88Z" fill="#0000ff"/>
<text x="476.5" y="387" font-size="10.2" text-anchor="start" >8cm</text>
<line x1="279" y1="396.5" x2="302.5" y2="396.5" stroke="#00ffff" stroke-width="1.2" stroke-dasharray="2.6 1.2"/>
<path d="M290.8 394.25L293.05 396.5L290.8 398.75L288.55 396.5Z" fill="#00ffff"/>
<text x="305.5" y="400" font-size="10.2" text-anchor="start" >6cm</text>
<line x1="336.3" y1="396.5" x2="359.8" y2="396.5" stroke="#ff00ff" stroke-width="1.2" stroke-dasharray="2.6 1.2"/>
<path d="M345.67 396.5L349.72 394.25L349.72 398.75Z" fill="#ff00ff"/>
<text x="362.8" y="400" font-size="10.2" text-anchor="start" >4cm</text>
<line x1="393" y1="396.5" x2="416.5" y2="396.5" stroke="#ffff00" stroke-width="1.2" stroke-dasharray="2.6 1.2"/>
<path d="M407.23 396.5L403.18 394.25L403.18 398.75Z" fill="#ffff00"/>
<text x="419.5" y="400" font-size="10.2" text-anchor="start" >2cm</text>
<line x1="450" y1="396.5" x2="473.5" y2="396.5" stroke="#808000" stroke-width="1.2" stroke-dasharray="2.6 1.2"/>
<circle cx="461.8" cy="396.5" r="2.25" fill="#808000"/>
<text x="476.5" y="400" font-size="10.2" text-anchor="start" >0cm</text>
<text x="409" y="370.5" font-size="10.2" text-anchor="middle" >Time (h)</text>
<text transform="translate(255.3,274.5) rotate(-90)" font-size="10.5" text-anchor="middle">Temperature (°C)</text>
<polyline points="40.3,449.92 44.67,477.18 49.04,497.49 53.41,504.68 57.78,512.12 62.15,516.72 66.52,519.31 70.89,522.15 75.26,524.75 79.63,527.42 84,529.09 88.37,530.77 92.74,532.44 97.11,533.82 101.48,535.2 105.85,536.49 110.22,537.79 114.59,538.87 118.96,539.96 123.33,540.76 127.7,541.55 132.07,542.18 136.44,542.8 140.81,543.35 145.18,543.89 149.55,512.71 153.92,506.77 158.29,496.41 162.66,489.8 167.03,483.7 171.4,477.76 175.77,474.5 180.14,471.33 184.51,468.4 188.88,466.31 193.25,464.39 197.62,462.46 201.99,461.08 206.36,459.71 210.73,458.41 215.1,457.11 219.47,456.03 223.84,454.94 228.21,453.81 232.58,452.68 236.95,451.6 241.32,450.51 245.69,449.21 250.06,447.92" fill="none" stroke="#ff1010" stroke-width="1.1"/>
<circle cx="40.3" cy="449.92" r="1.6" fill="#ff1010"/>
<circle cx="44.67" cy="477.18" r="1.6" fill="#ff1010"/>
<circle cx="49.04" cy="497.49" r="1.6" fill="#ff1010"/>
<circle cx="53.41" cy="504.68" r="1.6" fill="#ff1010"/>
<circle cx="57.78" cy="512.12" r="1.6" fill="#ff1010"/>
<circle cx="62.15" cy="516.72" r="1.6" fill="#ff1010"/>
<circle cx="66.52" cy="519.31" r="1.6" fill="#ff1010"/>
<circle cx="70.89" cy="522.15" r="1.6" fill="#ff1010"/>
<circle cx="75.26" cy="524.75" r="1.6" fill="#ff1010"/>
<circle cx="79.63" cy="527.42" r="1.6" fill="#ff1010"/>
<circle cx="84" cy="529.09" r="1.6" fill="#ff1010"/>
<circle cx="88.37" cy="530.77" r="1.6" fill="#ff1010"/>
<circle cx="92.74" cy="532.44" r="1.6" fill="#ff1010"/>
<circle cx="97.11" cy="533.82" r="1.6" fill="#ff1010"/>
<circle cx="101.48" cy="535.2" r="1.6" fill="#ff1010"/>
<circle cx="105.85" cy="536.49" r="1.6" fill="#ff1010"/>
<circle cx="110.22" cy="537.79" r="1.6" fill="#ff1010"/>
<circle cx="114.59" cy="538.87" r="1.6" fill="#ff1010"/>
<circle cx="118.96" cy="539.96" r="1.6" fill="#ff1010"/>
<circle cx="123.33" cy="540.76" r="1.6" fill="#ff1010"/>
<circle cx="127.7" cy="541.55" r="1.6" fill="#ff1010"/>
<circle cx="132.07" cy="542.18" r="1.6" fill="#ff1010"/>
<circle cx="136.44" cy="542.8" r="1.6" fill="#ff1010"/>
<circle cx="140.81" cy="543.35" r="1.6" fill="#ff1010"/>
<circle cx="145.18" cy="543.89" r="1.6" fill="#ff1010"/>
<circle cx="149.55" cy="512.71" r="1.6" fill="#ff1010"/>
<circle cx="153.92" cy="506.77" r="1.6" fill="#ff1010"/>
<circle cx="158.29" cy="496.41" r="1.6" fill="#ff1010"/>
<circle cx="162.66" cy="489.8" r="1.6" fill="#ff1010"/>
<circle cx="167.03" cy="483.7" r="1.6" fill="#ff1010"/>
<circle cx="171.4" cy="477.76" r="1.6" fill="#ff1010"/>
<circle cx="175.77" cy="474.5" r="1.6" fill="#ff1010"/>
<circle cx="180.14" cy="471.33" r="1.6" fill="#ff1010"/>
<circle cx="184.51" cy="468.4" r="1.6" fill="#ff1010"/>
<circle cx="188.88" cy="466.31" r="1.6" fill="#ff1010"/>
<circle cx="193.25" cy="464.39" r="1.6" fill="#ff1010"/>
<circle cx="197.62" cy="462.46" r="1.6" fill="#ff1010"/>
<circle cx="201.99" cy="461.08" r="1.6" fill="#ff1010"/>
<circle cx="206.36" cy="459.71" r="1.6" fill="#ff1010"/>
<circle cx="210.73" cy="458.41" r="1.6" fill="#ff1010"/>
<circle cx="215.1" cy="457.11" r="1.6" fill="#ff1010"/>
<circle cx="219.47" cy="456.03" r="1.6" fill="#ff1010"/>
<circle cx="223.84" cy="454.94" r="1.6" fill="#ff1010"/>
<circle cx="228.21" cy="453.81" r="1.6" fill="#ff1010"/>
<circle cx="232.58" cy="452.68" r="1.6" fill="#ff1010"/>
<circle cx="236.95" cy="451.6" r="1.6" fill="#ff1010"/>
<circle cx="241.32" cy="450.51" r="1.6" fill="#ff1010"/>
<circle cx="245.69" cy="449.21" r="1.6" fill="#ff1010"/>
<circle cx="250.06" cy="447.92" r="1.6" fill="#ff1010"/>
<polyline points="40.3,552.9 44.67,552.9 49.04,552.9 53.41,552.9 57.78,549.14 62.15,543.88 66.52,452.88 70.89,483.34 75.26,481.84 79.63,485.6 84,488.23 88.37,490.48 92.74,493.49 97.11,499.13 101.48,499.51 105.85,501.76 110.22,504.02 114.59,507.4 118.96,509.66 123.33,511.16 127.7,507.78 132.07,510.04 136.44,509.66 140.81,509.66 145.18,509.66 149.55,509.66 153.92,508.91 158.29,487.48 162.66,478.83 167.03,473.94 171.4,470.56 175.77,463.79 180.14,549.89 184.51,548.39 188.88,545.38 193.25,543.88 197.62,543.12 201.99,546.51 206.36,546.51 210.73,549.14 215.1,553.65 219.47,551.02 223.84,557.04 228.21,557.04 232.58,557.04 236.95,554.03 241.32,560.8 245.69,560.8 250.06,559.67" fill="none" stroke="#1515ff" stroke-width="1.1"/>
<rect x="38.7" y="551.3" width="3.2" height="3.2" fill="#1515ff"/>
<rect x="43.07" y="551.3" width="3.2" height="3.2" fill="#1515ff"/>
<rect x="47.44" y="551.3" width="3.2" height="3.2" fill="#1515ff"/>
<rect x="51.81" y="551.3" width="3.2" height="3.2" fill="#1515ff"/>
<rect x="56.18" y="547.54" width="3.2" height="3.2" fill="#1515ff"/>
<rect x="60.55" y="542.28" width="3.2" height="3.2" fill="#1515ff"/>
<rect x="64.92" y="451.28" width="3.2" height="3.2" fill="#1515ff"/>
<rect x="69.29" y="481.74" width="3.2" height="3.2" fill="#1515ff"/>
<rect x="73.66" y="480.24" width="3.2" height="3.2" fill="#1515ff"/>
<rect x="78.03" y="484" width="3.2" height="3.2" fill="#1515ff"/>
<rect x="82.4" y="486.63" width="3.2" height="3.2" fill="#1515ff"/>
<rect x="86.77" y="488.88" width="3.2" height="3.2" fill="#1515ff"/>
<rect x="91.14" y="491.89" width="3.2" height="3.2" fill="#1515ff"/>
<rect x="95.51" y="497.53" width="3.2" height="3.2" fill="#1515ff"/>
<rect x="99.88" y="497.91" width="3.2" height="3.2" fill="#1515ff"/>
<rect x="104.25" y="500.16" width="3.2" height="3.2" fill="#1515ff"/>
<rect x="108.62" y="502.42" width="3.2" height="3.2" fill="#1515ff"/>
<rect x="112.99" y="505.8" width="3.2" height="3.2" fill="#1515ff"/>
<rect x="117.36" y="508.06" width="3.2" height="3.2" fill="#1515ff"/>
<rect x="121.73" y="509.56" width="3.2" height="3.2" fill="#1515ff"/>
<rect x="126.1" y="506.18" width="3.2" height="3.2" fill="#1515ff"/>
<rect x="130.47" y="508.44" width="3.2" height="3.2" fill="#1515ff"/>
<rect x="134.84" y="508.06" width="3.2" height="3.2" fill="#1515ff"/>
<rect x="139.21" y="508.06" width="3.2" height="3.2" fill="#1515ff"/>
<rect x="143.58" y="508.06" width="3.2" height="3.2" fill="#1515ff"/>
<rect x="147.95" y="508.06" width="3.2" height="3.2" fill="#1515ff"/>
<rect x="152.32" y="507.31" width="3.2" height="3.2" fill="#1515ff"/>
<rect x="156.69" y="485.88" width="3.2" height="3.2" fill="#1515ff"/>
<rect x="161.06" y="477.23" width="3.2" height="3.2" fill="#1515ff"/>
<rect x="165.43" y="472.34" width="3.2" height="3.2" fill="#1515ff"/>
<rect x="169.8" y="468.96" width="3.2" height="3.2" fill="#1515ff"/>
<rect x="174.17" y="462.19" width="3.2" height="3.2" fill="#1515ff"/>
<rect x="178.54" y="548.29" width="3.2" height="3.2" fill="#1515ff"/>
<rect x="182.91" y="546.79" width="3.2" height="3.2" fill="#1515ff"/>
<rect x="187.28" y="543.78" width="3.2" height="3.2" fill="#1515ff"/>
<rect x="191.65" y="542.28" width="3.2" height="3.2" fill="#1515ff"/>
<rect x="196.02" y="541.52" width="3.2" height="3.2" fill="#1515ff"/>
<rect x="200.39" y="544.91" width="3.2" height="3.2" fill="#1515ff"/>
<rect x="204.76" y="544.91" width="3.2" height="3.2" fill="#1515ff"/>
<rect x="209.13" y="547.54" width="3.2" height="3.2" fill="#1515ff"/>
<rect x="213.5" y="552.05" width="3.2" height="3.2" fill="#1515ff"/>
<rect x="217.87" y="549.42" width="3.2" height="3.2" fill="#1515ff"/>
<rect x="222.24" y="555.44" width="3.2" height="3.2" fill="#1515ff"/>
<rect x="226.61" y="555.44" width="3.2" height="3.2" fill="#1515ff"/>
<rect x="230.98" y="555.44" width="3.2" height="3.2" fill="#1515ff"/>
<rect x="235.35" y="552.43" width="3.2" height="3.2" fill="#1515ff"/>
<rect x="239.72" y="559.2" width="3.2" height="3.2" fill="#1515ff"/>
<rect x="244.09" y="559.2" width="3.2" height="3.2" fill="#1515ff"/>
<rect x="248.46" y="558.07" width="3.2" height="3.2" fill="#1515ff"/>
<rect x="40.3" y="421.6" width="209.7" height="150.4" fill="none" stroke="#2a2a2a" stroke-width="1.2"/>
<line x1="40.3" y1="572" x2="40.3" y2="576" stroke="#2a2a2a" stroke-width="1"/>
<text x="40.3" y="586.5" font-size="10" text-anchor="middle" >0</text>
<line x1="57.78" y1="572" x2="57.78" y2="574.2" stroke="#2a2a2a" stroke-width="1"/>
<line x1="75.26" y1="572" x2="75.26" y2="576" stroke="#2a2a2a" stroke-width="1"/>
<text x="75.26" y="586.5" font-size="10" text-anchor="middle" >4</text>
<line x1="92.74" y1="572" x2="92.74" y2="574.2" stroke="#2a2a2a" stroke-width="1"/>
<line x1="110.22" y1="572" x2="110.22" y2="576" stroke="#2a2a2a" stroke-width="1"/>
<text x="110.22" y="586.5" font-size="10" text-anchor="middle" >8</text>
<line x1="127.7" y1="572" x2="127.7" y2="574.2" stroke="#2a2a2a" stroke-width="1"/>
<line x1="145.18" y1="572" x2="145.18" y2="576" stroke="#2a2a2a" stroke-width="1"/>
<text x="145.18" y="586.5" font-size="10" text-anchor="middle" >12</text>
<line x1="162.66" y1="572" x2="162.66" y2="574.2" stroke="#2a2a2a" stroke-width="1"/>
<line x1="180.14" y1="572" x2="180.14" y2="576" stroke="#2a2a2a" stroke-width="1"/>
<text x="180.14" y="586.5" font-size="10" text-anchor="middle" >16</text>
<line x1="197.62" y1="572" x2="197.62" y2="574.2" stroke="#2a2a2a" stroke-width="1"/>
<line x1="215.1" y1="572" x2="215.1" y2="576" stroke="#2a2a2a" stroke-width="1"/>
<text x="215.1" y="586.5" font-size="10" text-anchor="middle" >20</text>
<line x1="232.58" y1="572" x2="232.58" y2="574.2" stroke="#2a2a2a" stroke-width="1"/>
<line x1="250.06" y1="572" x2="250.06" y2="576" stroke="#2a2a2a" stroke-width="1"/>
<text x="250.06" y="586.5" font-size="10" text-anchor="middle" >24</text>
<line x1="36.8" y1="438.22" x2="40.3" y2="438.22" stroke="#2a2a2a" stroke-width="1"/>
<text x="34" y="441.32" font-size="10" text-anchor="end" >8</text>
<line x1="36.8" y1="471.66" x2="40.3" y2="471.66" stroke="#2a2a2a" stroke-width="1"/>
<text x="34" y="474.76" font-size="10" text-anchor="end" >4</text>
<line x1="36.8" y1="505.1" x2="40.3" y2="505.1" stroke="#2a2a2a" stroke-width="1"/>
<text x="34" y="508.2" font-size="10" text-anchor="end" >0</text>
<line x1="36.8" y1="538.54" x2="40.3" y2="538.54" stroke="#2a2a2a" stroke-width="1"/>
<text x="34" y="541.64" font-size="10" text-anchor="end" >−4</text>
<line x1="36.8" y1="571.98" x2="40.3" y2="571.98" stroke="#2a2a2a" stroke-width="1"/>
<text x="34" y="575.08" font-size="10" text-anchor="end" >−8</text>
<line x1="250" y1="552.9" x2="253.5" y2="552.9" stroke="#2a2a2a" stroke-width="1"/>
<text x="256" y="556.4" font-size="10" text-anchor="start" >0</text>
<line x1="250" y1="515.3" x2="253.5" y2="515.3" stroke="#2a2a2a" stroke-width="1"/>
<text x="256" y="518.8" font-size="10" text-anchor="start" >1</text>
<line x1="250" y1="477.7" x2="253.5" y2="477.7" stroke="#2a2a2a" stroke-width="1"/>
<text x="256" y="481.2" font-size="10" text-anchor="start" >2</text>
<line x1="250" y1="440.1" x2="253.5" y2="440.1" stroke="#2a2a2a" stroke-width="1"/>
<text x="256" y="443.6" font-size="10" text-anchor="start" >3</text>
<text x="145.15" y="600.5" font-size="10.2" text-anchor="middle" >Time (h)</text>
<text transform="translate(17,497) rotate(-90)" font-size="10.6" text-anchor="middle">Temperature (°C)</text>
<text transform="translate(274,496) rotate(-90)" font-size="10.5" text-anchor="middle">Pore water pressure (kPa)</text>
<text x="7.6" y="428.9" font-size="13.1" text-anchor="start" >(d)</text>
<polyline points="309.7,448.8 314.05,449.97 318.4,463.68 322.75,473.88 327.1,480.99 331.45,486.67 335.8,490.52 340.15,493.78 344.5,496.12 348.85,498.46 353.2,499.88 357.55,500.8 361.9,502.31 366.25,503.44 370.6,504.56 374.95,506.03 379.3,507.49 383.65,509.25 388,511 392.35,512.51 396.7,514.01 401.05,515.01 405.4,516.02 409.75,517.4 414.1,518.78 418.45,509.58 422.8,505.23 427.15,503.73 431.5,502.89 435.85,502.47 440.2,502.06 444.55,501.76 448.9,501.47 453.25,498.84 457.6,496.2 461.95,493.45 466.3,490.69 470.65,488.09 475,485.5 479.35,483.33 483.7,481.16 488.05,478.94 492.4,476.73 496.75,474.84 501.1,472.96 505.45,470.79 509.8,468.62 514.15,465.4 518.5,462.18" fill="none" stroke="#1a1acc" stroke-width="1.1"/>
<path d="M309.7 451.18L311.9 447.22L307.5 447.22Z" fill="#1a1acc"/>
<path d="M314.05 452.35L316.25 448.39L311.85 448.39Z" fill="#1a1acc"/>
<path d="M318.4 466.06L320.6 462.1L316.2 462.1Z" fill="#1a1acc"/>
<path d="M322.75 476.26L324.95 472.3L320.55 472.3Z" fill="#1a1acc"/>
<path d="M327.1 483.36L329.3 479.4L324.9 479.4Z" fill="#1a1acc"/>
<path d="M331.45 489.05L333.65 485.09L329.25 485.09Z" fill="#1a1acc"/>
<path d="M335.8 492.9L338 488.94L333.6 488.94Z" fill="#1a1acc"/>
<path d="M340.15 496.16L342.35 492.2L337.95 492.2Z" fill="#1a1acc"/>
<path d="M344.5 498.5L346.7 494.54L342.3 494.54Z" fill="#1a1acc"/>
<path d="M348.85 500.84L351.05 496.88L346.65 496.88Z" fill="#1a1acc"/>
<path d="M353.2 502.26L355.4 498.3L351 498.3Z" fill="#1a1acc"/>
<path d="M357.55 503.18L359.75 499.22L355.35 499.22Z" fill="#1a1acc"/>
<path d="M361.9 504.68L364.1 500.72L359.7 500.72Z" fill="#1a1acc"/>
<path d="M366.25 505.81L368.45 501.85L364.05 501.85Z" fill="#1a1acc"/>
<path d="M370.6 506.94L372.8 502.98L368.4 502.98Z" fill="#1a1acc"/>
<path d="M374.95 508.4L377.15 504.44L372.75 504.44Z" fill="#1a1acc"/>
<path d="M379.3 509.87L381.5 505.91L377.1 505.91Z" fill="#1a1acc"/>
<path d="M383.65 511.62L385.85 507.66L381.45 507.66Z" fill="#1a1acc"/>
<path d="M388 513.38L390.2 509.42L385.8 509.42Z" fill="#1a1acc"/>
<path d="M392.35 514.88L394.55 510.92L390.15 510.92Z" fill="#1a1acc"/>
<path d="M396.7 516.39L398.9 512.43L394.5 512.43Z" fill="#1a1acc"/>
<path d="M401.05 517.39L403.25 513.43L398.85 513.43Z" fill="#1a1acc"/>
<path d="M405.4 518.39L407.6 514.43L403.2 514.43Z" fill="#1a1acc"/>
<path d="M409.75 519.77L411.95 515.81L407.55 515.81Z" fill="#1a1acc"/>
<path d="M414.1 521.15L416.3 517.19L411.9 517.19Z" fill="#1a1acc"/>
<path d="M418.45 511.96L420.65 508L416.25 508Z" fill="#1a1acc"/>
<path d="M422.8 507.61L425 503.65L420.6 503.65Z" fill="#1a1acc"/>
<path d="M427.15 506.1L429.35 502.14L424.95 502.14Z" fill="#1a1acc"/>
<path d="M431.5 505.27L433.7 501.31L429.3 501.31Z" fill="#1a1acc"/>
<path d="M435.85 504.85L438.05 500.89L433.65 500.89Z" fill="#1a1acc"/>
<path d="M440.2 504.43L442.4 500.47L438 500.47Z" fill="#1a1acc"/>
<path d="M444.55 504.14L446.75 500.18L442.35 500.18Z" fill="#1a1acc"/>
<path d="M448.9 503.85L451.1 499.89L446.7 499.89Z" fill="#1a1acc"/>
<path d="M453.25 501.21L455.45 497.25L451.05 497.25Z" fill="#1a1acc"/>
<path d="M457.6 498.58L459.8 494.62L455.4 494.62Z" fill="#1a1acc"/>
<path d="M461.95 495.82L464.15 491.86L459.75 491.86Z" fill="#1a1acc"/>
<path d="M466.3 493.06L468.5 489.1L464.1 489.1Z" fill="#1a1acc"/>
<path d="M470.65 490.47L472.85 486.51L468.45 486.51Z" fill="#1a1acc"/>
<path d="M475 487.88L477.2 483.92L472.8 483.92Z" fill="#1a1acc"/>
<path d="M479.35 485.71L481.55 481.75L477.15 481.75Z" fill="#1a1acc"/>
<path d="M483.7 483.53L485.9 479.57L481.5 479.57Z" fill="#1a1acc"/>
<path d="M488.05 481.32L490.25 477.36L485.85 477.36Z" fill="#1a1acc"/>
<path d="M492.4 479.1L494.6 475.14L490.2 475.14Z" fill="#1a1acc"/>
<path d="M496.75 477.22L498.95 473.26L494.55 473.26Z" fill="#1a1acc"/>
<path d="M501.1 475.34L503.3 471.38L498.9 471.38Z" fill="#1a1acc"/>
<path d="M505.45 473.17L507.65 469.21L503.25 469.21Z" fill="#1a1acc"/>
<path d="M509.8 470.99L512 467.03L507.6 467.03Z" fill="#1a1acc"/>
<path d="M514.15 467.77L516.35 463.81L511.95 463.81Z" fill="#1a1acc"/>
<path d="M518.5 464.55L520.7 460.59L516.3 460.59Z" fill="#1a1acc"/>
<polyline points="309.7,544.35 314.05,545.1 318.4,546.23 322.75,546.6 327.1,546.23 331.45,545.85 335.8,545.48 340.15,545.48 344.5,548.85 348.85,540.23 353.2,528.6 357.55,520.35 361.9,525.6 366.25,523.73 370.6,528.98 374.95,534.98 379.3,526.73 383.65,525.6 388,523.73 392.35,522.98 396.7,456.98 401.05,458.48 405.4,475.35 409.75,480.98 414.1,476.1 418.45,480.23 422.8,473.1 427.15,472.73 431.5,472.35 435.85,471.98 440.2,471.6 444.55,489.98 448.9,492.23 453.25,495.23 457.6,501.6 461.95,518.85 466.3,531.6 470.65,547.35 475,548.1 479.35,548.48 483.7,548.85 488.05,548.85 492.4,548.85 496.75,549.04 501.1,549.23 505.45,548.85 509.8,548.1 514.15,548.29 518.5,548.48" fill="none" stroke="#00e8f0" stroke-width="1.1"/>
<circle cx="309.7" cy="544.35" r="1.6" fill="#00e8f0"/>
<circle cx="314.05" cy="545.1" r="1.6" fill="#00e8f0"/>
<circle cx="318.4" cy="546.23" r="1.6" fill="#00e8f0"/>
<circle cx="322.75" cy="546.6" r="1.6" fill="#00e8f0"/>
<circle cx="327.1" cy="546.23" r="1.6" fill="#00e8f0"/>
<circle cx="331.45" cy="545.85" r="1.6" fill="#00e8f0"/>
<circle cx="335.8" cy="545.48" r="1.6" fill="#00e8f0"/>
<circle cx="340.15" cy="545.48" r="1.6" fill="#00e8f0"/>
<circle cx="344.5" cy="548.85" r="1.6" fill="#00e8f0"/>
<circle cx="348.85" cy="540.23" r="1.6" fill="#00e8f0"/>
<circle cx="353.2" cy="528.6" r="1.6" fill="#00e8f0"/>
<circle cx="357.55" cy="520.35" r="1.6" fill="#00e8f0"/>
<circle cx="361.9" cy="525.6" r="1.6" fill="#00e8f0"/>
<circle cx="366.25" cy="523.73" r="1.6" fill="#00e8f0"/>
<circle cx="370.6" cy="528.98" r="1.6" fill="#00e8f0"/>
<circle cx="374.95" cy="534.98" r="1.6" fill="#00e8f0"/>
<circle cx="379.3" cy="526.73" r="1.6" fill="#00e8f0"/>
<circle cx="383.65" cy="525.6" r="1.6" fill="#00e8f0"/>
<circle cx="388" cy="523.73" r="1.6" fill="#00e8f0"/>
<circle cx="392.35" cy="522.98" r="1.6" fill="#00e8f0"/>
<circle cx="396.7" cy="456.98" r="1.6" fill="#00e8f0"/>
<circle cx="401.05" cy="458.48" r="1.6" fill="#00e8f0"/>
<circle cx="405.4" cy="475.35" r="1.6" fill="#00e8f0"/>
<circle cx="409.75" cy="480.98" r="1.6" fill="#00e8f0"/>
<circle cx="414.1" cy="476.1" r="1.6" fill="#00e8f0"/>
<circle cx="418.45" cy="480.23" r="1.6" fill="#00e8f0"/>
<circle cx="422.8" cy="473.1" r="1.6" fill="#00e8f0"/>
<circle cx="427.15" cy="472.73" r="1.6" fill="#00e8f0"/>
<circle cx="431.5" cy="472.35" r="1.6" fill="#00e8f0"/>
<circle cx="435.85" cy="471.98" r="1.6" fill="#00e8f0"/>
<circle cx="440.2" cy="471.6" r="1.6" fill="#00e8f0"/>
<circle cx="444.55" cy="489.98" r="1.6" fill="#00e8f0"/>
<circle cx="448.9" cy="492.23" r="1.6" fill="#00e8f0"/>
<circle cx="453.25" cy="495.23" r="1.6" fill="#00e8f0"/>
<circle cx="457.6" cy="501.6" r="1.6" fill="#00e8f0"/>
<circle cx="461.95" cy="518.85" r="1.6" fill="#00e8f0"/>
<circle cx="466.3" cy="531.6" r="1.6" fill="#00e8f0"/>
<circle cx="470.65" cy="547.35" r="1.6" fill="#00e8f0"/>
<circle cx="475" cy="548.1" r="1.6" fill="#00e8f0"/>
<circle cx="479.35" cy="548.48" r="1.6" fill="#00e8f0"/>
<circle cx="483.7" cy="548.85" r="1.6" fill="#00e8f0"/>
<circle cx="488.05" cy="548.85" r="1.6" fill="#00e8f0"/>
<circle cx="492.4" cy="548.85" r="1.6" fill="#00e8f0"/>
<circle cx="496.75" cy="549.04" r="1.6" fill="#00e8f0"/>
<circle cx="501.1" cy="549.23" r="1.6" fill="#00e8f0"/>
<circle cx="505.45" cy="548.85" r="1.6" fill="#00e8f0"/>
<circle cx="509.8" cy="548.1" r="1.6" fill="#00e8f0"/>
<circle cx="514.15" cy="548.29" r="1.6" fill="#00e8f0"/>
<circle cx="518.5" cy="548.48" r="1.6" fill="#00e8f0"/>
<rect x="309.7" y="421.8" width="209.3" height="149.7" fill="none" stroke="#2a2a2a" stroke-width="1.2"/>
<line x1="309.7" y1="571.5" x2="309.7" y2="575.5" stroke="#2a2a2a" stroke-width="1"/>
<text x="309.7" y="586" font-size="10" text-anchor="middle" >0</text>
<line x1="327.1" y1="571.5" x2="327.1" y2="573.7" stroke="#2a2a2a" stroke-width="1"/>
<line x1="344.5" y1="571.5" x2="344.5" y2="575.5" stroke="#2a2a2a" stroke-width="1"/>
<text x="344.5" y="586" font-size="10" text-anchor="middle" >4</text>
<line x1="361.9" y1="571.5" x2="361.9" y2="573.7" stroke="#2a2a2a" stroke-width="1"/>
<line x1="379.3" y1="571.5" x2="379.3" y2="575.5" stroke="#2a2a2a" stroke-width="1"/>
<text x="379.3" y="586" font-size="10" text-anchor="middle" >8</text>
<line x1="396.7" y1="571.5" x2="396.7" y2="573.7" stroke="#2a2a2a" stroke-width="1"/>
<line x1="414.1" y1="571.5" x2="414.1" y2="575.5" stroke="#2a2a2a" stroke-width="1"/>
<text x="414.1" y="586" font-size="10" text-anchor="middle" >12</text>
<line x1="431.5" y1="571.5" x2="431.5" y2="573.7" stroke="#2a2a2a" stroke-width="1"/>
<line x1="448.9" y1="571.5" x2="448.9" y2="575.5" stroke="#2a2a2a" stroke-width="1"/>
<text x="448.9" y="586" font-size="10" text-anchor="middle" >16</text>
<line x1="466.3" y1="571.5" x2="466.3" y2="573.7" stroke="#2a2a2a" stroke-width="1"/>
<line x1="483.7" y1="571.5" x2="483.7" y2="575.5" stroke="#2a2a2a" stroke-width="1"/>
<text x="483.7" y="586" font-size="10" text-anchor="middle" >20</text>
<line x1="501.1" y1="571.5" x2="501.1" y2="573.7" stroke="#2a2a2a" stroke-width="1"/>
<line x1="518.5" y1="571.5" x2="518.5" y2="575.5" stroke="#2a2a2a" stroke-width="1"/>
<text x="518.5" y="586" font-size="10" text-anchor="middle" >24</text>
<line x1="306.2" y1="438.52" x2="309.7" y2="438.52" stroke="#2a2a2a" stroke-width="1"/>
<text x="303.4" y="441.62" font-size="10" text-anchor="end" >8</text>
<line x1="306.2" y1="471.96" x2="309.7" y2="471.96" stroke="#2a2a2a" stroke-width="1"/>
<text x="303.4" y="475.06" font-size="10" text-anchor="end" >4</text>
<line x1="306.2" y1="505.4" x2="309.7" y2="505.4" stroke="#2a2a2a" stroke-width="1"/>
<text x="303.4" y="508.5" font-size="10" text-anchor="end" >0</text>
<line x1="306.2" y1="538.84" x2="309.7" y2="538.84" stroke="#2a2a2a" stroke-width="1"/>
<text x="303.4" y="541.94" font-size="10" text-anchor="end" >−4</text>
<line x1="306.2" y1="572.28" x2="309.7" y2="572.28" stroke="#2a2a2a" stroke-width="1"/>
<text x="303.4" y="575.38" font-size="10" text-anchor="end" >−8</text>
<line x1="519" y1="552.6" x2="522.5" y2="552.6" stroke="#2a2a2a" stroke-width="1"/>
<text x="525" y="556.1" font-size="10" text-anchor="start" >0</text>
<line x1="519" y1="515.1" x2="522.5" y2="515.1" stroke="#2a2a2a" stroke-width="1"/>
<text x="525" y="518.6" font-size="10" text-anchor="start" >1</text>
<line x1="519" y1="477.6" x2="522.5" y2="477.6" stroke="#2a2a2a" stroke-width="1"/>
<text x="525" y="481.1" font-size="10" text-anchor="start" >2</text>
<line x1="519" y1="440.1" x2="522.5" y2="440.1" stroke="#2a2a2a" stroke-width="1"/>
<text x="525" y="443.6" font-size="10" text-anchor="start" >3</text>
<text x="414.35" y="599.8" font-size="10.2" text-anchor="middle" >Time (h)</text>
<text transform="translate(288,496.6) rotate(-90)" font-size="10.6" text-anchor="middle">Temperature (°C)</text>
<text transform="translate(542.8,495.5) rotate(-90)" font-size="10.5" text-anchor="middle">Pore water pressure (kPa)</text>
<text x="278" y="428.5" font-size="13.1" text-anchor="start" >(e)</text>
<polyline points="40.3,633.52 44.67,653.14 49.04,671.59 53.41,684.12 57.78,690.63 62.15,695.73 66.52,700.48 70.89,706.16 75.26,712.01 79.63,713.51 84,716.77 88.37,718.6 92.74,720.69 97.11,722.86 101.48,724.45 105.85,725.79 110.22,726.87 114.59,728.37 118.96,729.46 123.33,730.54 127.7,731.21 132.07,731.63 136.44,731.21 140.81,723.61 145.18,708.67 149.55,704.41 153.92,702.91 158.29,690.21 162.66,677.1 167.03,668.84 171.4,661.82 175.77,656.81 180.14,652.72 184.51,648.71 188.88,645.54 193.25,642.62 197.62,639.61 201.99,637.4 206.36,635.19 210.73,633.02 215.1,630.85 219.47,629.22 223.84,627.59 228.21,625.96 232.58,624.33 236.95,623.21 241.32,622.08 245.69,620.99 250.06,619.91" fill="none" stroke="#ff1010" stroke-width="1.1" stroke-dasharray="1 1.2"/>
<circle cx="40.3" cy="633.52" r="1.6" fill="#ff1010"/>
<circle cx="44.67" cy="653.14" r="1.6" fill="#ff1010"/>
<circle cx="49.04" cy="671.59" r="1.6" fill="#ff1010"/>
<circle cx="53.41" cy="684.12" r="1.6" fill="#ff1010"/>
<circle cx="57.78" cy="690.63" r="1.6" fill="#ff1010"/>
<circle cx="62.15" cy="695.73" r="1.6" fill="#ff1010"/>
<circle cx="66.52" cy="700.48" r="1.6" fill="#ff1010"/>
<circle cx="70.89" cy="706.16" r="1.6" fill="#ff1010"/>
<circle cx="75.26" cy="712.01" r="1.6" fill="#ff1010"/>
<circle cx="79.63" cy="713.51" r="1.6" fill="#ff1010"/>
<circle cx="84" cy="716.77" r="1.6" fill="#ff1010"/>
<circle cx="88.37" cy="718.6" r="1.6" fill="#ff1010"/>
<circle cx="92.74" cy="720.69" r="1.6" fill="#ff1010"/>
<circle cx="97.11" cy="722.86" r="1.6" fill="#ff1010"/>
<circle cx="101.48" cy="724.45" r="1.6" fill="#ff1010"/>
<circle cx="105.85" cy="725.79" r="1.6" fill="#ff1010"/>
<circle cx="110.22" cy="726.87" r="1.6" fill="#ff1010"/>
<circle cx="114.59" cy="728.37" r="1.6" fill="#ff1010"/>
<circle cx="118.96" cy="729.46" r="1.6" fill="#ff1010"/>
<circle cx="123.33" cy="730.54" r="1.6" fill="#ff1010"/>
<circle cx="127.7" cy="731.21" r="1.6" fill="#ff1010"/>
<circle cx="132.07" cy="731.63" r="1.6" fill="#ff1010"/>
<circle cx="136.44" cy="731.21" r="1.6" fill="#ff1010"/>
<circle cx="140.81" cy="723.61" r="1.6" fill="#ff1010"/>
<circle cx="145.18" cy="708.67" r="1.6" fill="#ff1010"/>
<circle cx="149.55" cy="704.41" r="1.6" fill="#ff1010"/>
<circle cx="153.92" cy="702.91" r="1.6" fill="#ff1010"/>
<circle cx="158.29" cy="690.21" r="1.6" fill="#ff1010"/>
<circle cx="162.66" cy="677.1" r="1.6" fill="#ff1010"/>
<circle cx="167.03" cy="668.84" r="1.6" fill="#ff1010"/>
<circle cx="171.4" cy="661.82" r="1.6" fill="#ff1010"/>
<circle cx="175.77" cy="656.81" r="1.6" fill="#ff1010"/>
<circle cx="180.14" cy="652.72" r="1.6" fill="#ff1010"/>
<circle cx="184.51" cy="648.71" r="1.6" fill="#ff1010"/>
<circle cx="188.88" cy="645.54" r="1.6" fill="#ff1010"/>
<circle cx="193.25" cy="642.62" r="1.6" fill="#ff1010"/>
<circle cx="197.62" cy="639.61" r="1.6" fill="#ff1010"/>
<circle cx="201.99" cy="637.4" r="1.6" fill="#ff1010"/>
<circle cx="206.36" cy="635.19" r="1.6" fill="#ff1010"/>
<circle cx="210.73" cy="633.02" r="1.6" fill="#ff1010"/>
<circle cx="215.1" cy="630.85" r="1.6" fill="#ff1010"/>
<circle cx="219.47" cy="629.22" r="1.6" fill="#ff1010"/>
<circle cx="223.84" cy="627.59" r="1.6" fill="#ff1010"/>
<circle cx="228.21" cy="625.96" r="1.6" fill="#ff1010"/>
<circle cx="232.58" cy="624.33" r="1.6" fill="#ff1010"/>
<circle cx="236.95" cy="623.21" r="1.6" fill="#ff1010"/>
<circle cx="241.32" cy="622.08" r="1.6" fill="#ff1010"/>
<circle cx="245.69" cy="620.99" r="1.6" fill="#ff1010"/>
<circle cx="250.06" cy="619.91" r="1.6" fill="#ff1010"/>
<polyline points="40.3,728.2 44.67,728.2 49.04,724.44 53.41,722.56 57.78,720.3 62.15,718.8 66.52,717.67 70.89,716.16 75.26,711.28 79.63,675.18 84,649.24 88.37,645.85 92.74,650.36 97.11,651.87 101.48,650.74 105.85,650.36 110.22,650.36 114.59,650.55 118.96,650.74 123.33,650.74 127.7,650.74 132.07,650.93 136.44,651.12 140.81,651.87 145.18,653 149.55,654.88 153.92,639.46 158.29,718.8 162.66,724.44 167.03,728.2 171.4,728.2 175.77,728.2 180.14,728.2 184.51,728.2 188.88,728.2 193.25,728.2 197.62,728.2 201.99,728.2 206.36,727.44 210.73,728.2 215.1,728.2 219.47,728.2 223.84,728.2 228.21,728.2 232.58,728.2 236.95,728.2 241.32,728.2 245.69,728.2 250.06,728.2" fill="none" stroke="#1515ff" stroke-width="1.1" stroke-dasharray="3 1.2 1 1.2"/>
<rect x="38.7" y="726.6" width="3.2" height="3.2" fill="#1515ff"/>
<rect x="43.07" y="726.6" width="3.2" height="3.2" fill="#1515ff"/>
<rect x="47.44" y="722.84" width="3.2" height="3.2" fill="#1515ff"/>
<rect x="51.81" y="720.96" width="3.2" height="3.2" fill="#1515ff"/>
<rect x="56.18" y="718.7" width="3.2" height="3.2" fill="#1515ff"/>
<rect x="60.55" y="717.2" width="3.2" height="3.2" fill="#1515ff"/>
<rect x="64.92" y="716.07" width="3.2" height="3.2" fill="#1515ff"/>
<rect x="69.29" y="714.56" width="3.2" height="3.2" fill="#1515ff"/>
<rect x="73.66" y="709.68" width="3.2" height="3.2" fill="#1515ff"/>
<rect x="78.03" y="673.58" width="3.2" height="3.2" fill="#1515ff"/>
<rect x="82.4" y="647.64" width="3.2" height="3.2" fill="#1515ff"/>
<rect x="86.77" y="644.25" width="3.2" height="3.2" fill="#1515ff"/>
<rect x="91.14" y="648.76" width="3.2" height="3.2" fill="#1515ff"/>
<rect x="95.51" y="650.27" width="3.2" height="3.2" fill="#1515ff"/>
<rect x="99.88" y="649.14" width="3.2" height="3.2" fill="#1515ff"/>
<rect x="104.25" y="648.76" width="3.2" height="3.2" fill="#1515ff"/>
<rect x="108.62" y="648.76" width="3.2" height="3.2" fill="#1515ff"/>
<rect x="112.99" y="648.95" width="3.2" height="3.2" fill="#1515ff"/>
<rect x="117.36" y="649.14" width="3.2" height="3.2" fill="#1515ff"/>
<rect x="121.73" y="649.14" width="3.2" height="3.2" fill="#1515ff"/>
<rect x="126.1" y="649.14" width="3.2" height="3.2" fill="#1515ff"/>
<rect x="130.47" y="649.33" width="3.2" height="3.2" fill="#1515ff"/>
<rect x="134.84" y="649.52" width="3.2" height="3.2" fill="#1515ff"/>
<rect x="139.21" y="650.27" width="3.2" height="3.2" fill="#1515ff"/>
<rect x="143.58" y="651.4" width="3.2" height="3.2" fill="#1515ff"/>
<rect x="147.95" y="653.28" width="3.2" height="3.2" fill="#1515ff"/>
<rect x="152.32" y="637.86" width="3.2" height="3.2" fill="#1515ff"/>
<rect x="156.69" y="717.2" width="3.2" height="3.2" fill="#1515ff"/>
<rect x="161.06" y="722.84" width="3.2" height="3.2" fill="#1515ff"/>
<rect x="165.43" y="726.6" width="3.2" height="3.2" fill="#1515ff"/>
<rect x="169.8" y="726.6" width="3.2" height="3.2" fill="#1515ff"/>
<rect x="174.17" y="726.6" width="3.2" height="3.2" fill="#1515ff"/>
<rect x="178.54" y="726.6" width="3.2" height="3.2" fill="#1515ff"/>
<rect x="182.91" y="726.6" width="3.2" height="3.2" fill="#1515ff"/>
<rect x="187.28" y="726.6" width="3.2" height="3.2" fill="#1515ff"/>
<rect x="191.65" y="726.6" width="3.2" height="3.2" fill="#1515ff"/>
<rect x="196.02" y="726.6" width="3.2" height="3.2" fill="#1515ff"/>
<rect x="200.39" y="726.6" width="3.2" height="3.2" fill="#1515ff"/>
<rect x="204.76" y="725.84" width="3.2" height="3.2" fill="#1515ff"/>
<rect x="209.13" y="726.6" width="3.2" height="3.2" fill="#1515ff"/>
<rect x="213.5" y="726.6" width="3.2" height="3.2" fill="#1515ff"/>
<rect x="217.87" y="726.6" width="3.2" height="3.2" fill="#1515ff"/>
<rect x="222.24" y="726.6" width="3.2" height="3.2" fill="#1515ff"/>
<rect x="226.61" y="726.6" width="3.2" height="3.2" fill="#1515ff"/>
<rect x="230.98" y="726.6" width="3.2" height="3.2" fill="#1515ff"/>
<rect x="235.35" y="726.6" width="3.2" height="3.2" fill="#1515ff"/>
<rect x="239.72" y="726.6" width="3.2" height="3.2" fill="#1515ff"/>
<rect x="244.09" y="726.6" width="3.2" height="3.2" fill="#1515ff"/>
<rect x="248.46" y="726.6" width="3.2" height="3.2" fill="#1515ff"/>
<rect x="40.3" y="607.7" width="209.7" height="150.5" fill="none" stroke="#2a2a2a" stroke-width="1.2"/>
<line x1="40.3" y1="758.2" x2="40.3" y2="762.2" stroke="#2a2a2a" stroke-width="1"/>
<text x="40.3" y="772.7" font-size="10" text-anchor="middle" >0</text>
<line x1="57.78" y1="758.2" x2="57.78" y2="760.4" stroke="#2a2a2a" stroke-width="1"/>
<line x1="75.26" y1="758.2" x2="75.26" y2="762.2" stroke="#2a2a2a" stroke-width="1"/>
<text x="75.26" y="772.7" font-size="10" text-anchor="middle" >4</text>
<line x1="92.74" y1="758.2" x2="92.74" y2="760.4" stroke="#2a2a2a" stroke-width="1"/>
<line x1="110.22" y1="758.2" x2="110.22" y2="762.2" stroke="#2a2a2a" stroke-width="1"/>
<text x="110.22" y="772.7" font-size="10" text-anchor="middle" >8</text>
<line x1="127.7" y1="758.2" x2="127.7" y2="760.4" stroke="#2a2a2a" stroke-width="1"/>
<line x1="145.18" y1="758.2" x2="145.18" y2="762.2" stroke="#2a2a2a" stroke-width="1"/>
<text x="145.18" y="772.7" font-size="10" text-anchor="middle" >12</text>
<line x1="162.66" y1="758.2" x2="162.66" y2="760.4" stroke="#2a2a2a" stroke-width="1"/>
<line x1="180.14" y1="758.2" x2="180.14" y2="762.2" stroke="#2a2a2a" stroke-width="1"/>
<text x="180.14" y="772.7" font-size="10" text-anchor="middle" >16</text>
<line x1="197.62" y1="758.2" x2="197.62" y2="760.4" stroke="#2a2a2a" stroke-width="1"/>
<line x1="215.1" y1="758.2" x2="215.1" y2="762.2" stroke="#2a2a2a" stroke-width="1"/>
<text x="215.1" y="772.7" font-size="10" text-anchor="middle" >20</text>
<line x1="232.58" y1="758.2" x2="232.58" y2="760.4" stroke="#2a2a2a" stroke-width="1"/>
<line x1="250.06" y1="758.2" x2="250.06" y2="762.2" stroke="#2a2a2a" stroke-width="1"/>
<text x="250.06" y="772.7" font-size="10" text-anchor="middle" >24</text>
<line x1="36.8" y1="624.5" x2="40.3" y2="624.5" stroke="#2a2a2a" stroke-width="1"/>
<text x="34" y="627.6" font-size="10" text-anchor="end" >8</text>
<line x1="36.8" y1="657.9" x2="40.3" y2="657.9" stroke="#2a2a2a" stroke-width="1"/>
<text x="34" y="661" font-size="10" text-anchor="end" >4</text>
<line x1="36.8" y1="691.3" x2="40.3" y2="691.3" stroke="#2a2a2a" stroke-width="1"/>
<text x="34" y="694.4" font-size="10" text-anchor="end" >0</text>
<line x1="36.8" y1="724.7" x2="40.3" y2="724.7" stroke="#2a2a2a" stroke-width="1"/>
<text x="34" y="727.8" font-size="10" text-anchor="end" >−4</text>
<line x1="36.8" y1="758.1" x2="40.3" y2="758.1" stroke="#2a2a2a" stroke-width="1"/>
<text x="34" y="761.2" font-size="10" text-anchor="end" >−8</text>
<line x1="250" y1="739.1" x2="253.5" y2="739.1" stroke="#2a2a2a" stroke-width="1"/>
<text x="256" y="742.6" font-size="10" text-anchor="start" >0</text>
<line x1="250" y1="701.5" x2="253.5" y2="701.5" stroke="#2a2a2a" stroke-width="1"/>
<text x="256" y="705" font-size="10" text-anchor="start" >1</text>
<line x1="250" y1="663.9" x2="253.5" y2="663.9" stroke="#2a2a2a" stroke-width="1"/>
<text x="256" y="667.4" font-size="10" text-anchor="start" >2</text>
<line x1="250" y1="626.3" x2="253.5" y2="626.3" stroke="#2a2a2a" stroke-width="1"/>
<text x="256" y="629.8" font-size="10" text-anchor="start" >3</text>
<text x="145.15" y="786.9" font-size="10.2" text-anchor="middle" >Time (h)</text>
<text transform="translate(17,683) rotate(-90)" font-size="10.6" text-anchor="middle">Temperature (°C)</text>
<text transform="translate(274,682) rotate(-90)" font-size="10.5" text-anchor="middle">Pore water pressure (kPa)</text>
<text x="7.6" y="612.3" font-size="13.1" text-anchor="start" >(f)</text>
<polyline points="309.7,628.96 314.05,638.48 318.4,649.42 322.75,658.1 327.1,668.79 331.45,674.72 335.8,679.39 340.15,683.4 344.5,686.49 348.85,688.91 353.2,691.17 357.55,692.92 361.9,694.09 366.25,694.84 370.6,695.93 374.95,696.84 379.3,697.76 383.65,699.22 388,700.68 392.35,702.61 396.7,704.28 401.05,706.36 405.4,707.78 409.75,707.37 414.1,704.28 418.45,702.61 422.8,702.36 427.15,702.19 431.5,701.44 435.85,701.1 440.2,700.6 444.55,699.1 448.9,693.92 453.25,685.99 457.6,680.23 461.95,674.97 466.3,670.62 470.65,665.7 475,661.27 479.35,656.93 483.7,653.09 488.05,649.88 492.4,646.66 496.75,643.78 501.1,640.9 505.45,638.31 509.8,635.72 514.15,632.97 518.5,630.21" fill="none" stroke="#1a1acc" stroke-width="1.1" stroke-dasharray="1 1.2"/>
<path d="M309.7 631.33L311.9 627.37L307.5 627.37Z" fill="#1a1acc"/>
<path d="M314.05 640.85L316.25 636.89L311.85 636.89Z" fill="#1a1acc"/>
<path d="M318.4 651.79L320.6 647.83L316.2 647.83Z" fill="#1a1acc"/>
<path d="M322.75 660.48L324.95 656.52L320.55 656.52Z" fill="#1a1acc"/>
<path d="M327.1 671.16L329.3 667.2L324.9 667.2Z" fill="#1a1acc"/>
<path d="M331.45 677.09L333.65 673.13L329.25 673.13Z" fill="#1a1acc"/>
<path d="M335.8 681.77L338 677.81L333.6 677.81Z" fill="#1a1acc"/>
<path d="M340.15 685.78L342.35 681.82L337.95 681.82Z" fill="#1a1acc"/>
<path d="M344.5 688.87L346.7 684.91L342.3 684.91Z" fill="#1a1acc"/>
<path d="M348.85 691.29L351.05 687.33L346.65 687.33Z" fill="#1a1acc"/>
<path d="M353.2 693.54L355.4 689.58L351 689.58Z" fill="#1a1acc"/>
<path d="M357.55 695.3L359.75 691.34L355.35 691.34Z" fill="#1a1acc"/>
<path d="M361.9 696.46L364.1 692.5L359.7 692.5Z" fill="#1a1acc"/>
<path d="M366.25 697.22L368.45 693.26L364.05 693.26Z" fill="#1a1acc"/>
<path d="M370.6 698.3L372.8 694.34L368.4 694.34Z" fill="#1a1acc"/>
<path d="M374.95 699.22L377.15 695.26L372.75 695.26Z" fill="#1a1acc"/>
<path d="M379.3 700.14L381.5 696.18L377.1 696.18Z" fill="#1a1acc"/>
<path d="M383.65 701.6L385.85 697.64L381.45 697.64Z" fill="#1a1acc"/>
<path d="M388 703.06L390.2 699.1L385.8 699.1Z" fill="#1a1acc"/>
<path d="M392.35 704.98L394.55 701.02L390.15 701.02Z" fill="#1a1acc"/>
<path d="M396.7 706.65L398.9 702.69L394.5 702.69Z" fill="#1a1acc"/>
<path d="M401.05 708.74L403.25 704.78L398.85 704.78Z" fill="#1a1acc"/>
<path d="M405.4 710.16L407.6 706.2L403.2 706.2Z" fill="#1a1acc"/>
<path d="M409.75 709.74L411.95 705.78L407.55 705.78Z" fill="#1a1acc"/>
<path d="M414.1 706.65L416.3 702.69L411.9 702.69Z" fill="#1a1acc"/>
<path d="M418.45 704.98L420.65 701.02L416.25 701.02Z" fill="#1a1acc"/>
<path d="M422.8 704.73L425 700.77L420.6 700.77Z" fill="#1a1acc"/>
<path d="M427.15 704.56L429.35 700.6L424.95 700.6Z" fill="#1a1acc"/>
<path d="M431.5 703.81L433.7 699.85L429.3 699.85Z" fill="#1a1acc"/>
<path d="M435.85 703.48L438.05 699.52L433.65 699.52Z" fill="#1a1acc"/>
<path d="M440.2 702.98L442.4 699.02L438 699.02Z" fill="#1a1acc"/>
<path d="M444.55 701.47L446.75 697.51L442.35 697.51Z" fill="#1a1acc"/>
<path d="M448.9 696.3L451.1 692.34L446.7 692.34Z" fill="#1a1acc"/>
<path d="M453.25 688.37L455.45 684.41L451.05 684.41Z" fill="#1a1acc"/>
<path d="M457.6 682.6L459.8 678.64L455.4 678.64Z" fill="#1a1acc"/>
<path d="M461.95 677.34L464.15 673.38L459.75 673.38Z" fill="#1a1acc"/>
<path d="M466.3 673L468.5 669.04L464.1 669.04Z" fill="#1a1acc"/>
<path d="M470.65 668.07L472.85 664.11L468.45 664.11Z" fill="#1a1acc"/>
<path d="M475 663.65L477.2 659.69L472.8 659.69Z" fill="#1a1acc"/>
<path d="M479.35 659.31L481.55 655.35L477.15 655.35Z" fill="#1a1acc"/>
<path d="M483.7 655.47L485.9 651.51L481.5 651.51Z" fill="#1a1acc"/>
<path d="M488.05 652.25L490.25 648.29L485.85 648.29Z" fill="#1a1acc"/>
<path d="M492.4 649.04L494.6 645.08L490.2 645.08Z" fill="#1a1acc"/>
<path d="M496.75 646.16L498.95 642.2L494.55 642.2Z" fill="#1a1acc"/>
<path d="M501.1 643.27L503.3 639.32L498.9 639.32Z" fill="#1a1acc"/>
<path d="M505.45 640.69L507.65 636.73L503.25 636.73Z" fill="#1a1acc"/>
<path d="M509.8 638.1L512 634.14L507.6 634.14Z" fill="#1a1acc"/>
<path d="M514.15 635.34L516.35 631.38L511.95 631.38Z" fill="#1a1acc"/>
<path d="M518.5 632.59L520.7 628.63L516.3 628.63Z" fill="#1a1acc"/>
<polyline points="309.7,713.57 314.05,713.57 318.4,709.08 322.75,706.84 327.1,705.34 331.45,704.22 335.8,702.35 340.15,701.23 344.5,699.73 348.85,698.98 353.2,698.23 357.55,697.11 361.9,695.99 366.25,694.87 370.6,694.49 374.95,690.01 379.3,673.55 383.65,650.36 388,631.66 392.35,620.82 396.7,615.21 401.05,616.7 405.4,618.95 409.75,619.69 414.1,620.44 418.45,624.56 422.8,628.67 427.15,629.79 431.5,634.28 435.85,635.03 440.2,636.52 444.55,710.95 448.9,712.07 453.25,712.82 457.6,713.19 461.95,713.07 466.3,712.94 470.65,712.82 475,712.07 479.35,713.19 483.7,713.57 488.05,713.57 492.4,713.57 496.75,713.57 501.1,713.57 505.45,713.57 509.8,713.57 514.15,713.57 518.5,713.57" fill="none" stroke="#00e8f0" stroke-width="1.1" stroke-dasharray="1 1.2"/>
<circle cx="309.7" cy="713.57" r="1.6" fill="#00e8f0"/>
<circle cx="314.05" cy="713.57" r="1.6" fill="#00e8f0"/>
<circle cx="318.4" cy="709.08" r="1.6" fill="#00e8f0"/>
<circle cx="322.75" cy="706.84" r="1.6" fill="#00e8f0"/>
<circle cx="327.1" cy="705.34" r="1.6" fill="#00e8f0"/>
<circle cx="331.45" cy="704.22" r="1.6" fill="#00e8f0"/>
<circle cx="335.8" cy="702.35" r="1.6" fill="#00e8f0"/>
<circle cx="340.15" cy="701.23" r="1.6" fill="#00e8f0"/>
<circle cx="344.5" cy="699.73" r="1.6" fill="#00e8f0"/>
<circle cx="348.85" cy="698.98" r="1.6" fill="#00e8f0"/>
<circle cx="353.2" cy="698.23" r="1.6" fill="#00e8f0"/>
<circle cx="357.55" cy="697.11" r="1.6" fill="#00e8f0"/>
<circle cx="361.9" cy="695.99" r="1.6" fill="#00e8f0"/>
<circle cx="366.25" cy="694.87" r="1.6" fill="#00e8f0"/>
<circle cx="370.6" cy="694.49" r="1.6" fill="#00e8f0"/>
<circle cx="374.95" cy="690.01" r="1.6" fill="#00e8f0"/>
<circle cx="379.3" cy="673.55" r="1.6" fill="#00e8f0"/>
<circle cx="383.65" cy="650.36" r="1.6" fill="#00e8f0"/>
<circle cx="388" cy="631.66" r="1.6" fill="#00e8f0"/>
<circle cx="392.35" cy="620.82" r="1.6" fill="#00e8f0"/>
<circle cx="396.7" cy="615.21" r="1.6" fill="#00e8f0"/>
<circle cx="401.05" cy="616.7" r="1.6" fill="#00e8f0"/>
<circle cx="405.4" cy="618.95" r="1.6" fill="#00e8f0"/>
<circle cx="409.75" cy="619.69" r="1.6" fill="#00e8f0"/>
<circle cx="414.1" cy="620.44" r="1.6" fill="#00e8f0"/>
<circle cx="418.45" cy="624.56" r="1.6" fill="#00e8f0"/>
<circle cx="422.8" cy="628.67" r="1.6" fill="#00e8f0"/>
<circle cx="427.15" cy="629.79" r="1.6" fill="#00e8f0"/>
<circle cx="431.5" cy="634.28" r="1.6" fill="#00e8f0"/>
<circle cx="435.85" cy="635.03" r="1.6" fill="#00e8f0"/>
<circle cx="440.2" cy="636.52" r="1.6" fill="#00e8f0"/>
<circle cx="444.55" cy="710.95" r="1.6" fill="#00e8f0"/>
<circle cx="448.9" cy="712.07" r="1.6" fill="#00e8f0"/>
<circle cx="453.25" cy="712.82" r="1.6" fill="#00e8f0"/>
<circle cx="457.6" cy="713.19" r="1.6" fill="#00e8f0"/>
<circle cx="461.95" cy="713.07" r="1.6" fill="#00e8f0"/>
<circle cx="466.3" cy="712.94" r="1.6" fill="#00e8f0"/>
<circle cx="470.65" cy="712.82" r="1.6" fill="#00e8f0"/>
<circle cx="475" cy="712.07" r="1.6" fill="#00e8f0"/>
<circle cx="479.35" cy="713.19" r="1.6" fill="#00e8f0"/>
<circle cx="483.7" cy="713.57" r="1.6" fill="#00e8f0"/>
<circle cx="488.05" cy="713.57" r="1.6" fill="#00e8f0"/>
<circle cx="492.4" cy="713.57" r="1.6" fill="#00e8f0"/>
<circle cx="496.75" cy="713.57" r="1.6" fill="#00e8f0"/>
<circle cx="501.1" cy="713.57" r="1.6" fill="#00e8f0"/>
<circle cx="505.45" cy="713.57" r="1.6" fill="#00e8f0"/>
<circle cx="509.8" cy="713.57" r="1.6" fill="#00e8f0"/>
<circle cx="514.15" cy="713.57" r="1.6" fill="#00e8f0"/>
<circle cx="518.5" cy="713.57" r="1.6" fill="#00e8f0"/>
<rect x="309.7" y="608.3" width="209.3" height="150.2" fill="none" stroke="#2a2a2a" stroke-width="1.2"/>
<line x1="309.7" y1="758.5" x2="309.7" y2="762.5" stroke="#2a2a2a" stroke-width="1"/>
<text x="309.7" y="773" font-size="10" text-anchor="middle" >0</text>
<line x1="327.1" y1="758.5" x2="327.1" y2="760.7" stroke="#2a2a2a" stroke-width="1"/>
<line x1="344.5" y1="758.5" x2="344.5" y2="762.5" stroke="#2a2a2a" stroke-width="1"/>
<text x="344.5" y="773" font-size="10" text-anchor="middle" >4</text>
<line x1="361.9" y1="758.5" x2="361.9" y2="760.7" stroke="#2a2a2a" stroke-width="1"/>
<line x1="379.3" y1="758.5" x2="379.3" y2="762.5" stroke="#2a2a2a" stroke-width="1"/>
<text x="379.3" y="773" font-size="10" text-anchor="middle" >8</text>
<line x1="396.7" y1="758.5" x2="396.7" y2="760.7" stroke="#2a2a2a" stroke-width="1"/>
<line x1="414.1" y1="758.5" x2="414.1" y2="762.5" stroke="#2a2a2a" stroke-width="1"/>
<text x="414.1" y="773" font-size="10" text-anchor="middle" >12</text>
<line x1="431.5" y1="758.5" x2="431.5" y2="760.7" stroke="#2a2a2a" stroke-width="1"/>
<line x1="448.9" y1="758.5" x2="448.9" y2="762.5" stroke="#2a2a2a" stroke-width="1"/>
<text x="448.9" y="773" font-size="10" text-anchor="middle" >16</text>
<line x1="466.3" y1="758.5" x2="466.3" y2="760.7" stroke="#2a2a2a" stroke-width="1"/>
<line x1="483.7" y1="758.5" x2="483.7" y2="762.5" stroke="#2a2a2a" stroke-width="1"/>
<text x="483.7" y="773" font-size="10" text-anchor="middle" >20</text>
<line x1="501.1" y1="758.5" x2="501.1" y2="760.7" stroke="#2a2a2a" stroke-width="1"/>
<line x1="518.5" y1="758.5" x2="518.5" y2="762.5" stroke="#2a2a2a" stroke-width="1"/>
<text x="518.5" y="773" font-size="10" text-anchor="middle" >24</text>
<line x1="306.2" y1="624.7" x2="309.7" y2="624.7" stroke="#2a2a2a" stroke-width="1"/>
<text x="303.4" y="627.8" font-size="10" text-anchor="end" >8</text>
<line x1="306.2" y1="658.1" x2="309.7" y2="658.1" stroke="#2a2a2a" stroke-width="1"/>
<text x="303.4" y="661.2" font-size="10" text-anchor="end" >4</text>
<line x1="306.2" y1="691.5" x2="309.7" y2="691.5" stroke="#2a2a2a" stroke-width="1"/>
<text x="303.4" y="694.6" font-size="10" text-anchor="end" >0</text>
<line x1="306.2" y1="724.9" x2="309.7" y2="724.9" stroke="#2a2a2a" stroke-width="1"/>
<text x="303.4" y="728" font-size="10" text-anchor="end" >−4</text>
<line x1="306.2" y1="758.3" x2="309.7" y2="758.3" stroke="#2a2a2a" stroke-width="1"/>
<text x="303.4" y="761.4" font-size="10" text-anchor="end" >−8</text>
<line x1="519" y1="739" x2="522.5" y2="739" stroke="#2a2a2a" stroke-width="1"/>
<text x="525" y="742.5" font-size="10" text-anchor="start" >0</text>
<line x1="519" y1="701.6" x2="522.5" y2="701.6" stroke="#2a2a2a" stroke-width="1"/>
<text x="525" y="705.1" font-size="10" text-anchor="start" >1</text>
<line x1="519" y1="664.2" x2="522.5" y2="664.2" stroke="#2a2a2a" stroke-width="1"/>
<text x="525" y="667.7" font-size="10" text-anchor="start" >2</text>
<line x1="519" y1="626.8" x2="522.5" y2="626.8" stroke="#2a2a2a" stroke-width="1"/>
<text x="525" y="630.3" font-size="10" text-anchor="start" >3</text>
<text x="414.35" y="785.8" font-size="10.2" text-anchor="middle" >Time (h)</text>
<text transform="translate(288,682.6) rotate(-90)" font-size="10.6" text-anchor="middle">Temperature (°C)</text>
<text transform="translate(542.8,681.5) rotate(-90)" font-size="10.5" text-anchor="middle">Pore water pressure (kPa)</text>
<text x="278" y="613" font-size="13.1" text-anchor="start" >(g)</text>
<line x1="26.7" y1="411.5" x2="50.2" y2="411.5" stroke="#ff1010" stroke-width="1.2"/>
<circle cx="38.5" cy="411.5" r="1.7" fill="#ff1010"/>
<text x="53.2" y="415" font-size="10.3" text-anchor="start" >Temperature (12cm)</text>
<line x1="146" y1="411.5" x2="169.5" y2="411.5" stroke="#1515ff" stroke-width="1.2"/>
<rect x="156.1" y="409.8" width="3.4" height="3.4" fill="#1515ff"/>
<text x="172.5" y="415" font-size="10.3" text-anchor="start" >Pore water pressure (12cm)</text>
<line x1="296" y1="411.5" x2="319.5" y2="411.5" stroke="#1a1acc" stroke-width="1.2"/>
<path d="M307.8 413.77L309.9 409.99L305.7 409.99Z" fill="#1a1acc"/>
<text x="322.5" y="415" font-size="10.3" text-anchor="start" >Temperature (8cm)</text>
<line x1="410.4" y1="411.5" x2="433.9" y2="411.5" stroke="#00e8f0" stroke-width="1.2"/>
<circle cx="422.2" cy="411.5" r="1.7" fill="#00e8f0"/>
<text x="436.9" y="415" font-size="10.3" text-anchor="start" >Pore water pressure (8cm)</text>
<line x1="26.7" y1="795" x2="50.2" y2="795" stroke="#ff1010" stroke-width="1.2" stroke-dasharray="1 1.2"/>
<circle cx="38.5" cy="795" r="1.7" fill="#ff1010"/>
<text x="53.2" y="798.5" font-size="10.3" text-anchor="start" >Temperature (12cm)</text>
<line x1="146" y1="795" x2="169.5" y2="795" stroke="#1515ff" stroke-width="1.2" stroke-dasharray="3 1.2 1 1.2"/>
<rect x="156.1" y="793.3" width="3.4" height="3.4" fill="#1515ff"/>
<text x="172.5" y="798.5" font-size="10.3" text-anchor="start" >Pore water pressure (12cm)</text>
<line x1="296" y1="795" x2="319.5" y2="795" stroke="#1a1acc" stroke-width="1.2" stroke-dasharray="1 1.2"/>
<path d="M307.8 797.27L309.9 793.49L305.7 793.49Z" fill="#1a1acc"/>
<text x="322.5" y="798.5" font-size="10.3" text-anchor="start" >Temperature (8cm)</text>
<line x1="410.4" y1="795" x2="433.9" y2="795" stroke="#00e8f0" stroke-width="1.2" stroke-dasharray="3 1.2 1 1.2"/>
<circle cx="422.2" cy="795" r="1.7" fill="#00e8f0"/>
<text x="436.9" y="798.5" font-size="10.3" text-anchor="start" >Pore water pressure (8cm)</text>
</svg></body></html>
